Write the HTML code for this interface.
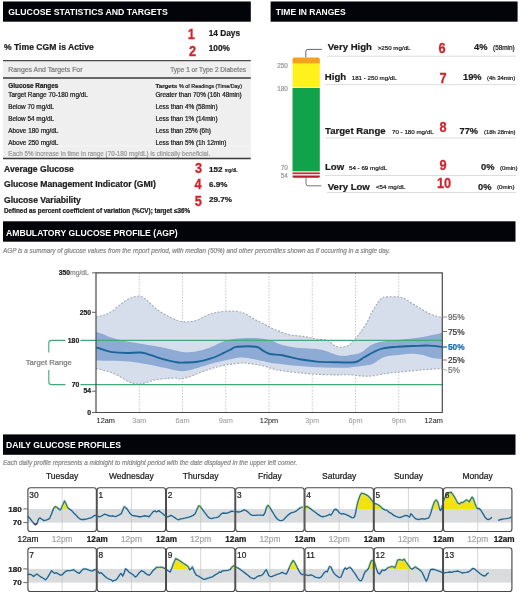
<!DOCTYPE html>
<html><head><meta charset="utf-8"><style>
html,body{margin:0;padding:0;background:#fff;}
body{width:520px;height:593px;overflow:hidden;}
svg{display:block;font-family:"Liberation Sans", Arial, sans-serif;}
</style></head><body>
<svg width="520" height="593" viewBox="0 0 520 593">
<rect width="520" height="593" fill="#fff"/>
<rect x="3" y="1.5" width="247.8" height="20.2" fill="#030409"/>
<text x="8.2" y="15" font-size="8.72" font-weight="bold" fill="#ffffff">GLUCOSE STATISTICS AND TARGETS</text>
<text transform="translate(187.8,38.6) scale(0.84,1)" font-size="15.2" font-weight="bold" fill="#d2232a" stroke="#d2232a" stroke-width="0.3">1</text>
<text x="208.7" y="36.1" font-size="8.3" font-weight="bold" fill="#1c1c1c" stroke="#1c1c1c" stroke-width="0.22">14 Days</text>
<text x="4" y="50.4" font-size="8.6" font-weight="bold" fill="#1c1c1c" stroke="#1c1c1c" stroke-width="0.22">% Time CGM is Active</text>
<text transform="translate(188.9,56.3) scale(0.84,1)" font-size="15.2" font-weight="bold" fill="#d2232a" stroke="#d2232a" stroke-width="0.3">2</text>
<text x="208.7" y="50.5" font-size="8.3" font-weight="bold" fill="#1c1c1c" stroke="#1c1c1c" stroke-width="0.22">100%</text>
<rect x="3" y="61" width="247.8" height="97" fill="#efefef"/>
<line x1="3" y1="60.6" x2="250.8" y2="60.6" stroke="#4a4a4a" stroke-width="1.2"/>
<text x="8.3" y="72.4" font-size="6.9" fill="#7e7e7e" stroke="#7e7e7e" stroke-width="0.22">Ranges And Targets For</text>
<text x="246" y="72.4" font-size="6.5" text-anchor="end" fill="#7e7e7e" stroke="#7e7e7e" stroke-width="0.22">Type 1 or Type 2 Diabetes</text>
<line x1="3" y1="78" x2="250.8" y2="78" stroke="#3a3a3a" stroke-width="1.5"/>
<line x1="3" y1="146" x2="250.8" y2="146" stroke="#f7f7f7" stroke-width="0.8"/>
<text x="8.3" y="87.8" font-size="6.4" font-weight="bold" fill="#1c1c1c" stroke="#1c1c1c" stroke-width="0.22">Glucose Ranges</text>
<text x="155.4" y="87.8" font-size="6.2" font-weight="bold" fill="#1c1c1c" stroke="#1c1c1c" stroke-width="0.2">Targets <tspan font-size="5.4" font-weight="normal">% of Readings (Time/Day)</tspan></text>
<text x="8.3" y="96.8" font-size="6.4" fill="#1c1c1c" stroke="#1c1c1c" stroke-width="0.22">Target Range 70-180 mg/dL</text>
<text x="155.4" y="96.8" font-size="6.4" fill="#1c1c1c" stroke="#1c1c1c" stroke-width="0.22">Greater than 70% (16h 48min)</text>
<text x="8.3" y="108.8" font-size="6.4" fill="#1c1c1c" stroke="#1c1c1c" stroke-width="0.22">Below 70 mg/dL</text>
<text x="155.4" y="108.8" font-size="6.4" fill="#1c1c1c" stroke="#1c1c1c" stroke-width="0.22">Less than 4% (58min)</text>
<text x="8.3" y="120.8" font-size="6.4" fill="#1c1c1c" stroke="#1c1c1c" stroke-width="0.22">Below 54 mg/dL</text>
<text x="155.4" y="120.8" font-size="6.4" fill="#1c1c1c" stroke="#1c1c1c" stroke-width="0.22">Less than 1% (14min)</text>
<text x="8.3" y="132.8" font-size="6.4" fill="#1c1c1c" stroke="#1c1c1c" stroke-width="0.22">Above 180 mg/dL</text>
<text x="155.4" y="132.8" font-size="6.4" fill="#1c1c1c" stroke="#1c1c1c" stroke-width="0.22">Less than 25% (6h)</text>
<text x="8.3" y="144.8" font-size="6.4" fill="#1c1c1c" stroke="#1c1c1c" stroke-width="0.22">Above 250 mg/dL</text>
<text x="155.4" y="144.8" font-size="6.4" fill="#1c1c1c" stroke="#1c1c1c" stroke-width="0.22">Less than 5% (1h 12min)</text>
<text x="8.3" y="156" font-size="6.3" fill="#9a9a9a" stroke="#9a9a9a" stroke-width="0.22">Each 5% increase in time in range (70-180 mg/dL) is clinically beneficial.</text>
<line x1="3" y1="158.6" x2="250.8" y2="158.6" stroke="#3a3a3a" stroke-width="1.5"/>
<text x="4" y="172" font-size="8.6" font-weight="bold" fill="#1c1c1c" stroke="#1c1c1c" stroke-width="0.22">Average Glucose</text>
<text transform="translate(195.0,172.5) scale(0.84,1)" font-size="15.2" font-weight="bold" fill="#d2232a" stroke="#d2232a" stroke-width="0.3">3</text>
<text x="209" y="171.8" font-size="8.1" font-weight="bold" fill="#1c1c1c" stroke="#1c1c1c" stroke-width="0.22">152 <tspan font-size="4.6" font-weight="normal">mg/dL</tspan></text>
<text x="4" y="187" font-size="8.6" font-weight="bold" fill="#1c1c1c" stroke="#1c1c1c" stroke-width="0.22">Glucose Management Indicator (GMI)</text>
<text transform="translate(194.6,189) scale(0.84,1)" font-size="15.2" font-weight="bold" fill="#d2232a" stroke="#d2232a" stroke-width="0.3">4</text>
<text x="209" y="186.8" font-size="8.1" font-weight="bold" fill="#1c1c1c" stroke="#1c1c1c" stroke-width="0.22">6.9%</text>
<text x="4" y="202.5" font-size="8.6" font-weight="bold" fill="#1c1c1c" stroke="#1c1c1c" stroke-width="0.22">Glucose Variability</text>
<text transform="translate(194.8,206) scale(0.84,1)" font-size="15.2" font-weight="bold" fill="#d2232a" stroke="#d2232a" stroke-width="0.3">5</text>
<text x="209" y="202" font-size="8.1" font-weight="bold" fill="#1c1c1c" stroke="#1c1c1c" stroke-width="0.22">29.7%</text>
<text x="4" y="212.5" font-size="6.35" font-weight="bold" fill="#1c1c1c" stroke="#1c1c1c" stroke-width="0.22">Defined as percent coefficient of variation (%CV); target ≤36%</text>
<rect x="270.6" y="1.5" width="247" height="20.2" fill="#030409"/>
<text x="275.8" y="15" font-size="8.5" font-weight="bold" fill="#ffffff">TIME IN RANGES</text>
<path d="M292.5,59.3 Q292.5,57.4 294.4,57.4 H317.9 Q319.8,57.4 319.8,59.3 V63.7 H292.5 Z" fill="#f5a11e"/>
<rect x="292.5" y="63.6" width="27.3" height="23.3" fill="#fff11c"/>
<rect x="292.5" y="87.9" width="27.3" height="83.4" fill="#12a24c"/>
<rect x="292.5" y="172.4" width="27.3" height="1.8" fill="#d42a35"/>
<path d="M292.5,175.5 H319.8 V176.2 Q319.8,177.8 318.2,177.8 H294.1 Q292.5,177.8 292.5,176.2 Z" fill="#b81d2e"/>
<text x="287.9" y="68.1" font-size="6.4" text-anchor="end" fill="#9a9a9a" stroke="#9a9a9a" stroke-width="0.22">250</text>
<text x="287.9" y="90.8" font-size="6.4" text-anchor="end" fill="#9a9a9a" stroke="#9a9a9a" stroke-width="0.22">180</text>
<text x="287.9" y="170.3" font-size="6.4" text-anchor="end" fill="#9a9a9a" stroke="#9a9a9a" stroke-width="0.22">70</text>
<text x="287.9" y="177.9" font-size="6.4" text-anchor="end" fill="#9a9a9a" stroke="#9a9a9a" stroke-width="0.22">54</text>
<path d="M305.8,57.4 V51.5 Q305.8,49.4 307.9,49.4 H322" fill="none" stroke="#555" stroke-width="0.9"/>
<path d="M306,177.8 V183.7 Q306,185.8 308.1,185.8 H321.3" fill="none" stroke="#666" stroke-width="0.9"/>
<line x1="327" y1="56.2" x2="516" y2="56.2" stroke="#d4d4d4" stroke-width="0.8"/>
<line x1="325" y1="84.6" x2="516" y2="84.6" stroke="#d4d4d4" stroke-width="0.8"/>
<line x1="325" y1="138" x2="516" y2="138" stroke="#d4d4d4" stroke-width="0.8"/>
<line x1="325" y1="175.5" x2="516" y2="175.5" stroke="#d4d4d4" stroke-width="0.8"/>
<line x1="327" y1="192.5" x2="516" y2="192.5" stroke="#d4d4d4" stroke-width="0.8"/>
<text x="327.7" y="50.4" font-size="9.6" font-weight="bold" fill="#1c1c1c" stroke="#1c1c1c" stroke-width="0.22">Very High</text>
<text x="377.7" y="50.2" font-size="6.2" fill="#1c1c1c" stroke="#1c1c1c" stroke-width="0.22">&gt;250 mg/dL</text>
<text transform="translate(438.6,52.5) scale(0.84,1)" font-size="15.2" font-weight="bold" fill="#d2232a" stroke="#d2232a" stroke-width="0.3">6</text>
<text x="474" y="50.2" font-size="9.3" font-weight="bold" fill="#1c1c1c" stroke="#1c1c1c" stroke-width="0.22">4%</text>
<text x="493" y="50.2" font-size="6.4" fill="#1c1c1c" stroke="#1c1c1c" stroke-width="0.22">(58min)</text>
<text x="324.8" y="80.2" font-size="9.6" font-weight="bold" fill="#1c1c1c" stroke="#1c1c1c" stroke-width="0.22">High</text>
<text x="351.7" y="80" font-size="6.2" fill="#1c1c1c" stroke="#1c1c1c" stroke-width="0.22">181 - 250 mg/dL</text>
<text transform="translate(439.6,82.5) scale(0.84,1)" font-size="15.2" font-weight="bold" fill="#d2232a" stroke="#d2232a" stroke-width="0.3">7</text>
<text x="463" y="80" font-size="9.3" font-weight="bold" fill="#1c1c1c" stroke="#1c1c1c" stroke-width="0.22">19%</text>
<text x="487" y="80" font-size="5.9" fill="#1c1c1c" stroke="#1c1c1c" stroke-width="0.22">(4h 34min)</text>
<text x="325" y="134.3" font-size="9.6" font-weight="bold" fill="#1c1c1c" stroke="#1c1c1c" stroke-width="0.22">Target Range</text>
<text x="392" y="134" font-size="6.2" fill="#1c1c1c" stroke="#1c1c1c" stroke-width="0.22">70 - 180 mg/dL</text>
<text transform="translate(439.6,132) scale(0.84,1)" font-size="15.2" font-weight="bold" fill="#d2232a" stroke="#d2232a" stroke-width="0.3">8</text>
<text x="459.5" y="134.3" font-size="9.3" font-weight="bold" fill="#1c1c1c" stroke="#1c1c1c" stroke-width="0.22">77%</text>
<text x="484" y="134" font-size="5.9" fill="#1c1c1c" stroke="#1c1c1c" stroke-width="0.22">(18h 28min)</text>
<text x="325" y="170.2" font-size="9.6" font-weight="bold" fill="#1c1c1c" stroke="#1c1c1c" stroke-width="0.22">Low</text>
<text x="349" y="170" font-size="6.2" fill="#1c1c1c" stroke="#1c1c1c" stroke-width="0.22">54 - 69 mg/dL</text>
<text transform="translate(439.6,170) scale(0.84,1)" font-size="15.2" font-weight="bold" fill="#d2232a" stroke="#d2232a" stroke-width="0.3">9</text>
<text x="481" y="170.4" font-size="9.3" font-weight="bold" fill="#1c1c1c" stroke="#1c1c1c" stroke-width="0.22">0%</text>
<text x="500" y="170.2" font-size="6.2" fill="#1c1c1c" stroke="#1c1c1c" stroke-width="0.22">(0min)</text>
<text x="327.7" y="189.5" font-size="9.6" font-weight="bold" fill="#1c1c1c" stroke="#1c1c1c" stroke-width="0.22">Very Low</text>
<text x="376" y="189.3" font-size="6.2" fill="#1c1c1c" stroke="#1c1c1c" stroke-width="0.22">&lt;54 mg/dL</text>
<text transform="translate(437.0,187.5) scale(0.84,1)" font-size="15.2" font-weight="bold" fill="#d2232a" stroke="#d2232a" stroke-width="0.3">10</text>
<text x="478" y="189.5" font-size="9.3" font-weight="bold" fill="#1c1c1c" stroke="#1c1c1c" stroke-width="0.22">0%</text>
<text x="497" y="189.3" font-size="6.2" fill="#1c1c1c" stroke="#1c1c1c" stroke-width="0.22">(0min)</text>
<rect x="3" y="221.3" width="512.5" height="20.4" fill="#030409"/>
<text x="6" y="236.2" font-size="8.65" font-weight="bold" fill="#ffffff">AMBULATORY GLUCOSE PROFILE (AGP)</text>
<text x="3" y="252.5" font-size="6.34" font-style="italic" fill="#8a8a8a" stroke="#8a8a8a" stroke-width="0.22">AGP is a summary of glucose values from the report period, with median (50%) and other percentiles shown as if occurring in a single day.</text>
<line x1="139.25" y1="273" x2="139.25" y2="412" stroke="#b0b0b0" stroke-width="0.7" stroke-dasharray="1.5,1.5"/>
<line x1="182.5" y1="273" x2="182.5" y2="412" stroke="#b0b0b0" stroke-width="0.7" stroke-dasharray="1.5,1.5"/>
<line x1="225.75" y1="273" x2="225.75" y2="412" stroke="#b0b0b0" stroke-width="0.7" stroke-dasharray="1.5,1.5"/>
<line x1="269.0" y1="273" x2="269.0" y2="412" stroke="#b0b0b0" stroke-width="0.7" stroke-dasharray="1.5,1.5"/>
<line x1="312.25" y1="273" x2="312.25" y2="412" stroke="#b0b0b0" stroke-width="0.7" stroke-dasharray="1.5,1.5"/>
<line x1="355.5" y1="273" x2="355.5" y2="412" stroke="#b0b0b0" stroke-width="0.7" stroke-dasharray="1.5,1.5"/>
<line x1="398.75" y1="273" x2="398.75" y2="412" stroke="#b0b0b0" stroke-width="0.7" stroke-dasharray="1.5,1.5"/>
<path d="M96.00,316.80 C97.28,316.55 100.98,316.27 103.70,315.30 C106.42,314.33 109.42,312.88 112.30,311.00 C115.18,309.12 118.12,306.08 121.00,304.00 C123.88,301.92 126.58,299.80 129.60,298.50 C132.62,297.20 136.22,295.92 139.10,296.20 C141.98,296.48 144.15,298.17 146.90,300.20 C149.65,302.23 152.72,306.10 155.60,308.40 C158.48,310.70 161.32,312.28 164.20,314.00 C167.08,315.72 170.30,317.48 172.90,318.70 C175.50,319.92 177.17,320.78 179.80,321.30 C182.43,321.82 185.78,322.00 188.70,321.80 C191.62,321.60 194.42,321.10 197.30,320.10 C200.18,319.10 203.12,317.02 206.00,315.80 C208.88,314.58 211.43,313.53 214.60,312.80 C217.77,312.07 221.25,311.63 225.00,311.40 C228.75,311.17 233.65,310.97 237.10,311.40 C240.55,311.83 242.82,312.70 245.70,314.00 C248.58,315.30 251.52,317.62 254.40,319.20 C257.28,320.78 260.08,322.00 263.00,323.50 C265.92,325.00 268.68,326.70 271.90,328.20 C275.12,329.70 279.12,331.35 282.30,332.50 C285.48,333.65 288.12,334.52 291.00,335.10 C293.88,335.68 296.72,335.63 299.60,336.00 C302.48,336.37 305.42,336.78 308.30,337.30 C311.18,337.82 313.73,338.60 316.90,339.10 C320.07,339.60 324.42,339.23 327.30,340.30 C330.18,341.37 332.18,344.35 334.20,345.50 C336.22,346.65 337.67,347.00 339.40,347.20 C341.13,347.40 342.87,347.13 344.60,346.70 C346.33,346.27 347.98,345.97 349.80,344.60 C351.62,343.23 353.63,340.67 355.50,338.50 C357.37,336.33 359.18,334.12 361.00,331.60 C362.82,329.08 364.58,326.60 366.40,323.40 C368.22,320.20 370.07,315.75 371.90,312.40 C373.73,309.05 375.72,305.73 377.40,303.30 C379.08,300.87 380.48,298.87 382.00,297.80 C383.52,296.73 383.77,297.05 386.50,296.90 C389.23,296.75 395.35,296.60 398.40,296.90 C401.45,297.20 402.52,297.63 404.80,298.70 C407.08,299.77 409.67,301.78 412.10,303.30 C414.53,304.82 416.65,306.13 419.40,307.80 C422.15,309.47 425.85,311.92 428.60,313.30 C431.35,314.68 433.67,315.40 435.90,316.10 C438.13,316.80 440.98,317.27 442.00,317.50 L442.00,368.50 C438.83,368.72 429.20,369.28 423.00,369.80 C416.80,370.32 410.88,371.00 404.80,371.60 C398.72,372.20 392.58,372.63 386.50,373.40 C380.42,374.17 374.38,375.97 368.30,376.20 C362.22,376.43 355.68,375.02 350.00,374.80 C344.32,374.58 339.72,374.98 334.20,374.90 C328.68,374.82 322.67,374.63 316.90,374.30 C311.13,373.97 305.37,373.48 299.60,372.90 C293.83,372.32 286.62,371.43 282.30,370.80 C277.98,370.17 276.92,369.93 273.70,369.10 C270.48,368.27 266.50,366.63 263.00,365.80 C259.50,364.97 256.15,364.57 252.70,364.10 C249.25,363.63 245.77,363.00 242.30,363.00 C238.83,363.00 235.37,363.63 231.90,364.10 C228.43,364.57 224.97,365.03 221.50,365.80 C218.03,366.57 214.55,367.63 211.10,368.70 C207.65,369.77 204.25,370.90 200.80,372.20 C197.35,373.50 193.87,375.37 190.40,376.50 C186.93,377.63 182.35,378.73 180.00,379.00 C177.65,379.27 178.35,378.20 176.30,378.10 C174.25,378.00 171.15,378.12 167.70,378.40 C164.25,378.68 159.07,379.13 155.60,379.80 C152.13,380.47 149.50,381.68 146.90,382.40 C144.30,383.12 142.02,383.90 140.00,384.10 C137.98,384.30 136.82,384.03 134.80,383.60 C132.78,383.17 130.20,382.57 127.90,381.50 C125.60,380.43 123.60,378.63 121.00,377.20 C118.40,375.77 114.90,373.97 112.30,372.90 C109.70,371.83 108.12,371.53 105.40,370.80 C102.68,370.07 97.57,368.88 96.00,368.50 Z" fill="#d6deec"/>
<path d="M96.00,331.70 C97.33,332.17 101.33,333.48 104.00,334.50 C106.67,335.52 108.50,336.72 112.00,337.80 C115.50,338.88 120.50,340.07 125.00,341.00 C129.50,341.93 133.17,342.40 139.00,343.40 C144.83,344.40 153.17,345.67 160.00,347.00 C166.83,348.33 175.22,350.52 180.00,351.40 C184.78,352.28 185.23,352.43 188.70,352.30 C192.17,352.17 197.07,351.47 200.80,350.60 C204.53,349.73 208.22,348.25 211.10,347.10 C213.98,345.95 215.78,344.70 218.10,343.70 C220.42,342.70 222.70,341.83 225.00,341.10 C227.30,340.37 228.45,339.80 231.90,339.30 C235.35,338.80 241.67,338.30 245.70,338.10 C249.73,337.90 252.05,337.75 256.10,338.10 C260.15,338.45 265.63,339.05 270.00,340.20 C274.37,341.35 277.37,343.70 282.30,345.00 C287.23,346.30 293.83,347.33 299.60,348.00 C305.37,348.67 312.28,348.42 316.90,349.00 C321.52,349.58 323.83,350.45 327.30,351.50 C330.77,352.55 334.58,354.58 337.70,355.30 C340.82,356.02 343.95,355.83 346.00,355.80 C348.05,355.77 347.50,355.67 350.00,355.10 C352.50,354.53 357.95,353.77 361.00,352.40 C364.05,351.03 365.87,348.42 368.30,346.90 C370.73,345.38 372.57,344.27 375.60,343.30 C378.63,342.33 381.63,341.77 386.50,341.10 C391.37,340.43 398.72,340.00 404.80,339.30 C410.88,338.60 416.80,337.95 423.00,336.90 C429.20,335.85 438.83,333.65 442.00,333.00 L442.00,358.80 C440.37,358.65 435.37,358.52 432.20,357.90 C429.03,357.28 425.73,355.77 423.00,355.10 C420.27,354.43 418.83,354.05 415.80,353.90 C412.77,353.75 409.68,353.78 404.80,354.20 C399.92,354.62 390.77,355.48 386.50,356.40 C382.23,357.32 381.63,358.38 379.20,359.70 C376.77,361.02 374.93,363.23 371.90,364.30 C368.87,365.37 364.65,365.58 361.00,366.10 C357.35,366.62 354.47,367.13 350.00,367.40 C345.53,367.67 339.72,367.72 334.20,367.70 C328.68,367.68 322.67,367.58 316.90,367.30 C311.13,367.02 305.37,366.52 299.60,366.00 C293.83,365.48 287.23,364.75 282.30,364.20 C277.37,363.65 273.22,363.23 270.00,362.70 C266.78,362.17 265.88,361.63 263.00,361.00 C260.12,360.37 256.15,359.48 252.70,358.90 C249.25,358.32 245.77,357.50 242.30,357.50 C238.83,357.50 236.52,358.03 231.90,358.90 C227.28,359.77 220.37,361.20 214.60,362.70 C208.83,364.20 202.23,366.52 197.30,367.90 C192.37,369.28 188.22,370.52 185.00,371.00 C181.78,371.48 181.47,371.35 178.00,370.80 C174.53,370.25 169.38,368.80 164.20,367.70 C159.02,366.60 152.67,365.22 146.90,364.20 C141.13,363.18 135.37,362.17 129.60,361.60 C123.83,361.03 117.90,361.00 112.30,360.80 C106.70,360.60 98.72,360.47 96.00,360.40 Z" fill="#8eabd5"/>
<path d="M96.00,316.80 C97.28,316.55 100.98,316.27 103.70,315.30 C106.42,314.33 109.42,312.88 112.30,311.00 C115.18,309.12 118.12,306.08 121.00,304.00 C123.88,301.92 126.58,299.80 129.60,298.50 C132.62,297.20 136.22,295.92 139.10,296.20 C141.98,296.48 144.15,298.17 146.90,300.20 C149.65,302.23 152.72,306.10 155.60,308.40 C158.48,310.70 161.32,312.28 164.20,314.00 C167.08,315.72 170.30,317.48 172.90,318.70 C175.50,319.92 177.17,320.78 179.80,321.30 C182.43,321.82 185.78,322.00 188.70,321.80 C191.62,321.60 194.42,321.10 197.30,320.10 C200.18,319.10 203.12,317.02 206.00,315.80 C208.88,314.58 211.43,313.53 214.60,312.80 C217.77,312.07 221.25,311.63 225.00,311.40 C228.75,311.17 233.65,310.97 237.10,311.40 C240.55,311.83 242.82,312.70 245.70,314.00 C248.58,315.30 251.52,317.62 254.40,319.20 C257.28,320.78 260.08,322.00 263.00,323.50 C265.92,325.00 268.68,326.70 271.90,328.20 C275.12,329.70 279.12,331.35 282.30,332.50 C285.48,333.65 288.12,334.52 291.00,335.10 C293.88,335.68 296.72,335.63 299.60,336.00 C302.48,336.37 305.42,336.78 308.30,337.30 C311.18,337.82 313.73,338.60 316.90,339.10 C320.07,339.60 324.42,339.23 327.30,340.30 C330.18,341.37 332.18,344.35 334.20,345.50 C336.22,346.65 337.67,347.00 339.40,347.20 C341.13,347.40 342.87,347.13 344.60,346.70 C346.33,346.27 347.98,345.97 349.80,344.60 C351.62,343.23 353.63,340.67 355.50,338.50 C357.37,336.33 359.18,334.12 361.00,331.60 C362.82,329.08 364.58,326.60 366.40,323.40 C368.22,320.20 370.07,315.75 371.90,312.40 C373.73,309.05 375.72,305.73 377.40,303.30 C379.08,300.87 380.48,298.87 382.00,297.80 C383.52,296.73 383.77,297.05 386.50,296.90 C389.23,296.75 395.35,296.60 398.40,296.90 C401.45,297.20 402.52,297.63 404.80,298.70 C407.08,299.77 409.67,301.78 412.10,303.30 C414.53,304.82 416.65,306.13 419.40,307.80 C422.15,309.47 425.85,311.92 428.60,313.30 C431.35,314.68 433.67,315.40 435.90,316.10 C438.13,316.80 440.98,317.27 442.00,317.50" fill="none" stroke="#a3a9b3" stroke-width="1.1" stroke-dasharray="2,1.6"/>
<path d="M96.00,368.50 C97.57,368.88 102.68,370.07 105.40,370.80 C108.12,371.53 109.70,371.83 112.30,372.90 C114.90,373.97 118.40,375.77 121.00,377.20 C123.60,378.63 125.60,380.43 127.90,381.50 C130.20,382.57 132.78,383.17 134.80,383.60 C136.82,384.03 137.98,384.30 140.00,384.10 C142.02,383.90 144.30,383.12 146.90,382.40 C149.50,381.68 152.13,380.47 155.60,379.80 C159.07,379.13 164.25,378.68 167.70,378.40 C171.15,378.12 174.25,378.00 176.30,378.10 C178.35,378.20 177.65,379.27 180.00,379.00 C182.35,378.73 186.93,377.63 190.40,376.50 C193.87,375.37 197.35,373.50 200.80,372.20 C204.25,370.90 207.65,369.77 211.10,368.70 C214.55,367.63 218.03,366.57 221.50,365.80 C224.97,365.03 228.43,364.57 231.90,364.10 C235.37,363.63 238.83,363.00 242.30,363.00 C245.77,363.00 249.25,363.63 252.70,364.10 C256.15,364.57 259.50,364.97 263.00,365.80 C266.50,366.63 270.48,368.27 273.70,369.10 C276.92,369.93 277.98,370.17 282.30,370.80 C286.62,371.43 293.83,372.32 299.60,372.90 C305.37,373.48 311.13,373.97 316.90,374.30 C322.67,374.63 328.68,374.82 334.20,374.90 C339.72,374.98 344.32,374.58 350.00,374.80 C355.68,375.02 362.22,376.43 368.30,376.20 C374.38,375.97 380.42,374.17 386.50,373.40 C392.58,372.63 398.72,372.20 404.80,371.60 C410.88,371.00 416.80,370.32 423.00,369.80 C429.20,369.28 438.83,368.72 442.00,368.50" fill="none" stroke="#a3a9b3" stroke-width="1.1" stroke-dasharray="2,1.6"/>
<path d="M96.00,347.30 C97.57,347.82 102.68,349.60 105.40,350.40 C108.12,351.20 108.85,351.67 112.30,352.10 C115.75,352.53 121.48,352.93 126.10,353.00 C130.72,353.07 136.53,352.37 140.00,352.50 C143.47,352.63 144.02,353.00 146.90,353.80 C149.78,354.60 153.83,356.20 157.30,357.30 C160.77,358.40 164.25,359.53 167.70,360.40 C171.15,361.27 175.12,362.15 178.00,362.50 C180.88,362.85 181.78,362.62 185.00,362.50 C188.22,362.38 192.95,362.48 197.30,361.80 C201.65,361.12 206.77,359.83 211.10,358.40 C215.43,356.97 219.83,354.80 223.30,353.20 C226.77,351.60 229.60,349.87 231.90,348.80 C234.20,347.73 233.07,347.13 237.10,346.80 C241.13,346.47 251.78,346.17 256.10,346.80 C260.42,347.43 260.68,349.40 263.00,350.60 C265.32,351.80 266.78,353.22 270.00,354.00 C273.22,354.78 277.37,354.42 282.30,355.30 C287.23,356.18 293.83,358.25 299.60,359.30 C305.37,360.35 311.13,361.12 316.90,361.60 C322.67,362.08 328.68,362.05 334.20,362.20 C339.72,362.35 346.15,362.62 350.00,362.50 C353.85,362.38 354.87,362.42 357.30,361.50 C359.73,360.58 361.87,358.58 364.60,357.00 C367.33,355.42 370.65,353.43 373.70,352.00 C376.75,350.57 379.23,349.25 382.90,348.40 C386.57,347.55 390.53,347.30 395.70,346.90 C400.87,346.50 408.42,346.22 413.90,346.00 C419.38,345.78 423.92,345.45 428.60,345.60 C433.28,345.75 439.77,346.68 442.00,346.90" fill="none" stroke="#1b6699" stroke-width="1.9"/>
<line x1="80.4" y1="340.4" x2="442" y2="340.4" stroke="#43a877" stroke-width="1.3"/>
<line x1="80.4" y1="384.6" x2="442" y2="384.6" stroke="#43a877" stroke-width="1.3"/>
<path d="M96,272.8 H442.3 V412.5 H96 Z" fill="none" stroke="#4a4a4a" stroke-width="1.2"/>
<line x1="92" y1="272.8" x2="96" y2="272.8" stroke="#555" stroke-width="0.9"/>
<line x1="92" y1="312.3" x2="96" y2="312.3" stroke="#555" stroke-width="0.9"/>
<line x1="92" y1="391.2" x2="96" y2="391.2" stroke="#555" stroke-width="0.9"/>
<line x1="92" y1="412.5" x2="96" y2="412.5" stroke="#555" stroke-width="0.9"/>
<text x="70" y="275.2" font-size="6.8" font-weight="bold" text-anchor="end" fill="#1c1c1c" stroke="#1c1c1c" stroke-width="0.22">350</text>
<text x="70" y="275.2" font-size="6.8" fill="#8a8a8a" stroke="#8a8a8a" stroke-width="0.22">mg/dL</text>
<text x="91" y="314.8" font-size="6.8" font-weight="bold" text-anchor="end" fill="#1c1c1c" stroke="#1c1c1c" stroke-width="0.22">250</text>
<text x="91" y="393.2" font-size="6.8" font-weight="bold" text-anchor="end" fill="#1c1c1c" stroke="#1c1c1c" stroke-width="0.22">54</text>
<text x="91" y="414.6" font-size="6.8" font-weight="bold" text-anchor="end" fill="#1c1c1c" stroke="#1c1c1c" stroke-width="0.22">0</text>
<text x="79.2" y="342.6" font-size="6.8" font-weight="bold" text-anchor="end" fill="#1c1c1c" stroke="#1c1c1c" stroke-width="0.22">180</text>
<text x="79.2" y="386.6" font-size="6.8" font-weight="bold" text-anchor="end" fill="#1c1c1c" stroke="#1c1c1c" stroke-width="0.22">70</text>
<path d="M65.4,340.4 H51.5 Q48.8,340.4 48.8,343.1 V352.5 M48.8,370 V381.9 Q48.8,384.6 51.5,384.6 H65.4" fill="none" stroke="#43a877" stroke-width="1.1"/>
<text x="48.8" y="364.9" font-size="7.7" text-anchor="middle" fill="#7a7a7a" stroke="#7a7a7a" stroke-width="0.22">Target Range</text>
<text x="448" y="319.8" font-size="8.3" fill="#666" stroke="#666" stroke-width="0.22">95%</text>
<text x="448" y="335" font-size="8.3" fill="#333" stroke="#333" stroke-width="0.22">75%</text>
<text x="448" y="349.8" font-size="8.3" font-weight="bold" fill="#1a6aa5" stroke="#1a6aa5" stroke-width="0.22">50%</text>
<text x="448" y="362.7" font-size="8.3" fill="#333" stroke="#333" stroke-width="0.22">25%</text>
<text x="448" y="373" font-size="8.3" fill="#777" stroke="#777" stroke-width="0.22">5%</text>
<line x1="442" y1="317" x2="447" y2="317" stroke="#777" stroke-width="0.8"/>
<line x1="442" y1="331.5" x2="447" y2="331.5" stroke="#555" stroke-width="0.8"/>
<line x1="442" y1="347" x2="447" y2="347" stroke="#1a6aa5" stroke-width="1.3"/>
<line x1="442" y1="360" x2="447" y2="360" stroke="#555" stroke-width="0.8"/>
<line x1="442" y1="368.5" x2="447" y2="370.5" stroke="#999" stroke-width="0.8"/>
<text x="96.6" y="422.5" font-size="7.3" fill="#2a2a2a" stroke="#2a2a2a" stroke-width="0.08">12am</text>
<text x="139.25" y="422.5" font-size="7.3" text-anchor="middle" fill="#a0a0a0" stroke="#a0a0a0" stroke-width="0.08">3am</text>
<text x="182.5" y="422.5" font-size="7.3" text-anchor="middle" fill="#a0a0a0" stroke="#a0a0a0" stroke-width="0.08">6am</text>
<text x="225.75" y="422.5" font-size="7.3" text-anchor="middle" fill="#a0a0a0" stroke="#a0a0a0" stroke-width="0.08">9am</text>
<text x="269.0" y="422.5" font-size="7.3" text-anchor="middle" fill="#2a2a2a" stroke="#2a2a2a" stroke-width="0.08">12pm</text>
<text x="312.25" y="422.5" font-size="7.3" text-anchor="middle" fill="#a0a0a0" stroke="#a0a0a0" stroke-width="0.08">3pm</text>
<text x="355.5" y="422.5" font-size="7.3" text-anchor="middle" fill="#a0a0a0" stroke="#a0a0a0" stroke-width="0.08">6pm</text>
<text x="398.75" y="422.5" font-size="7.3" text-anchor="middle" fill="#a0a0a0" stroke="#a0a0a0" stroke-width="0.08">9pm</text>
<text x="442.8" y="422.5" font-size="7.3" text-anchor="end" fill="#2a2a2a" stroke="#2a2a2a" stroke-width="0.08">12am</text>
<rect x="3" y="434.4" width="512.5" height="20.4" fill="#030409"/>
<text x="6" y="448.2" font-size="8.6" font-weight="bold" fill="#ffffff">DAILY GLUCOSE PROFILES</text>
<text x="3" y="465" font-size="6.3" font-style="italic" fill="#8a8a8a" stroke="#8a8a8a" stroke-width="0.22">Each daily profile represents a midnight to midnight period with the date displayed in the upper left corner.</text>
<text x="62.13" y="479" font-size="8.55" text-anchor="middle" fill="#1c1c1c" stroke="#1c1c1c" stroke-width="0.22">Tuesday</text>
<text x="131.39" y="479" font-size="8.55" text-anchor="middle" fill="#1c1c1c" stroke="#1c1c1c" stroke-width="0.22">Wednesday</text>
<text x="200.65" y="479" font-size="8.55" text-anchor="middle" fill="#1c1c1c" stroke="#1c1c1c" stroke-width="0.22">Thursday</text>
<text x="269.91" y="479" font-size="8.55" text-anchor="middle" fill="#1c1c1c" stroke="#1c1c1c" stroke-width="0.22">Friday</text>
<text x="339.17" y="479" font-size="8.55" text-anchor="middle" fill="#1c1c1c" stroke="#1c1c1c" stroke-width="0.22">Saturday</text>
<text x="408.43" y="479" font-size="8.55" text-anchor="middle" fill="#1c1c1c" stroke="#1c1c1c" stroke-width="0.22">Sunday</text>
<text x="477.69" y="479" font-size="8.55" text-anchor="middle" fill="#1c1c1c" stroke="#1c1c1c" stroke-width="0.22">Monday</text>
<defs>
<clipPath id="hi0"><rect x="0" y="487.7" width="520" height="21.20"/></clipPath>
<clipPath id="hig0"><rect x="0" y="487.7" width="520" height="19.60"/></clipPath>
<clipPath id="mid0"><rect x="0" y="507.30" width="520" height="15.30"/></clipPath>
<clipPath id="lo0"><rect x="0" y="522.60" width="520" height="9.10"/></clipPath>
<clipPath id="hi1"><rect x="0" y="547.7" width="520" height="21.20"/></clipPath>
<clipPath id="hig1"><rect x="0" y="547.7" width="520" height="19.60"/></clipPath>
<clipPath id="mid1"><rect x="0" y="567.30" width="520" height="15.30"/></clipPath>
<clipPath id="lo1"><rect x="0" y="582.60" width="520" height="9.10"/></clipPath>
</defs>
<rect x="27.9" y="508.9" width="68.46" height="13.7" fill="#dadbdc"/>
<line x1="62.13" y1="487.7" x2="62.13" y2="531.5" stroke="#c4c4c4" stroke-width="0.7"/>
<rect x="97.16" y="508.9" width="68.46" height="13.7" fill="#dadbdc"/>
<line x1="131.39" y1="487.7" x2="131.39" y2="531.5" stroke="#c4c4c4" stroke-width="0.7"/>
<rect x="166.42" y="508.9" width="68.46" height="13.7" fill="#dadbdc"/>
<line x1="200.65" y1="487.7" x2="200.65" y2="531.5" stroke="#c4c4c4" stroke-width="0.7"/>
<rect x="235.68" y="508.9" width="68.46" height="13.7" fill="#dadbdc"/>
<line x1="269.91" y1="487.7" x2="269.91" y2="531.5" stroke="#c4c4c4" stroke-width="0.7"/>
<rect x="304.94" y="508.9" width="68.46" height="13.7" fill="#dadbdc"/>
<line x1="339.17" y1="487.7" x2="339.17" y2="531.5" stroke="#c4c4c4" stroke-width="0.7"/>
<rect x="374.2" y="508.9" width="68.46" height="13.7" fill="#dadbdc"/>
<line x1="408.43" y1="487.7" x2="408.43" y2="531.5" stroke="#c4c4c4" stroke-width="0.7"/>
<rect x="443.46" y="508.9" width="68.46" height="13.7" fill="#dadbdc"/>
<line x1="477.69" y1="487.7" x2="477.69" y2="531.5" stroke="#c4c4c4" stroke-width="0.7"/>
<text x="21.8" y="511.7" font-size="8.1" font-weight="bold" text-anchor="end" fill="#1c1c1c" stroke="#1c1c1c" stroke-width="0.22">180</text>
<text x="21.8" y="525.4" font-size="8.1" font-weight="bold" text-anchor="end" fill="#1c1c1c" stroke="#1c1c1c" stroke-width="0.22">70</text>
<line x1="23.3" y1="508.9" x2="27.5" y2="508.9" stroke="#555" stroke-width="0.9"/>
<line x1="23.3" y1="522.6" x2="27.5" y2="522.6" stroke="#555" stroke-width="0.9"/>
<path d="M27.66,516.18 L30.15,518.54 L32.92,522.28 L35.42,524.77 L37.08,523.38 L38.46,519.23 L39.85,517.85 L41.92,519.23 L44.00,520.62 L46.77,519.92 L49.54,518.54 L51.62,513.69 L53.69,508.15 L55.35,506.49 L57.15,507.46 L59.23,509.54 L60.62,509.82 L62.28,506.08 L64.49,500.95 L66.15,504.00 L67.54,507.46 L69.62,509.26 L71.69,510.65 L73.77,513.00 L75.85,515.08 L77.92,517.15 L80.00,518.95 L81.38,519.51 L84.15,519.51 L86.92,518.95 L89.69,518.12 L91.77,517.57 L93.85,515.77 L95.92,515.08 L95.92,508.90 L27.66,508.90 Z" fill="#f4e20c" clip-path="url(#hi0)"/>
<path d="M27.66,516.18 L30.15,518.54 L32.92,522.28 L35.42,524.77 L37.08,523.38 L38.46,519.23 L39.85,517.85 L41.92,519.23 L44.00,520.62 L46.77,519.92 L49.54,518.54 L51.62,513.69 L53.69,508.15 L55.35,506.49 L57.15,507.46 L59.23,509.54 L60.62,509.82 L62.28,506.08 L64.49,500.95 L66.15,504.00 L67.54,507.46 L69.62,509.26 L71.69,510.65 L73.77,513.00 L75.85,515.08 L77.92,517.15 L80.00,518.95 L81.38,519.51 L84.15,519.51 L86.92,518.95 L89.69,518.12 L91.77,517.57 L93.85,515.77 L95.92,515.08" fill="none" stroke="#bfe5f4" stroke-width="2.8" stroke-linejoin="round" opacity="0.8"/>
<path d="M27.66,516.18 L30.15,518.54 L32.92,522.28 L35.42,524.77 L37.08,523.38 L38.46,519.23 L39.85,517.85 L41.92,519.23 L44.00,520.62 L46.77,519.92 L49.54,518.54 L51.62,513.69 L53.69,508.15 L55.35,506.49 L57.15,507.46 L59.23,509.54 L60.62,509.82 L62.28,506.08 L64.49,500.95 L66.15,504.00 L67.54,507.46 L69.62,509.26 L71.69,510.65 L73.77,513.00 L75.85,515.08 L77.92,517.15 L80.00,518.95 L81.38,519.51 L84.15,519.51 L86.92,518.95 L89.69,518.12 L91.77,517.57 L93.85,515.77 L95.92,515.08" fill="none" stroke="#4a7d3a" stroke-width="1.35" stroke-linejoin="round" clip-path="url(#hig0)"/>
<path d="M27.66,516.18 L30.15,518.54 L32.92,522.28 L35.42,524.77 L37.08,523.38 L38.46,519.23 L39.85,517.85 L41.92,519.23 L44.00,520.62 L46.77,519.92 L49.54,518.54 L51.62,513.69 L53.69,508.15 L55.35,506.49 L57.15,507.46 L59.23,509.54 L60.62,509.82 L62.28,506.08 L64.49,500.95 L66.15,504.00 L67.54,507.46 L69.62,509.26 L71.69,510.65 L73.77,513.00 L75.85,515.08 L77.92,517.15 L80.00,518.95 L81.38,519.51 L84.15,519.51 L86.92,518.95 L89.69,518.12 L91.77,517.57 L93.85,515.77 L95.92,515.08" fill="none" stroke="#2c5f85" stroke-width="1.35" stroke-linejoin="round" clip-path="url(#mid0)"/>
<path d="M27.66,516.18 L30.15,518.54 L32.92,522.28 L35.42,524.77 L37.08,523.38 L38.46,519.23 L39.85,517.85 L41.92,519.23 L44.00,520.62 L46.77,519.92 L49.54,518.54 L51.62,513.69 L53.69,508.15 L55.35,506.49 L57.15,507.46 L59.23,509.54 L60.62,509.82 L62.28,506.08 L64.49,500.95 L66.15,504.00 L67.54,507.46 L69.62,509.26 L71.69,510.65 L73.77,513.00 L75.85,515.08 L77.92,517.15 L80.00,518.95 L81.38,519.51 L84.15,519.51 L86.92,518.95 L89.69,518.12 L91.77,517.57 L93.85,515.77 L95.92,515.08" fill="none" stroke="#4d2748" stroke-width="1.35" stroke-linejoin="round" clip-path="url(#lo0)"/>
<path d="M97.77,516.46 L99.85,516.74 L101.92,515.77 L104.69,514.11 L106.77,514.80 L108.85,515.77 L110.92,516.18 L113.00,515.77 L115.08,516.74 L117.15,515.77 L119.23,514.80 L121.31,513.69 L122.69,510.23 L124.08,506.77 L125.46,507.46 L127.54,509.54 L129.62,513.00 L131.69,515.08 L133.77,515.77 L136.54,516.18 L139.31,516.74 L142.08,516.46 L144.85,515.77 L146.92,516.05 L149.00,516.74 L151.08,514.38 L153.15,511.62 L154.82,510.92 L156.62,512.03 L158.69,510.65 L160.77,512.31 L162.85,513.69 L164.92,515.77 L164.92,508.90 L97.77,508.90 Z" fill="#f4e20c" clip-path="url(#hi0)"/>
<path d="M97.77,516.46 L99.85,516.74 L101.92,515.77 L104.69,514.11 L106.77,514.80 L108.85,515.77 L110.92,516.18 L113.00,515.77 L115.08,516.74 L117.15,515.77 L119.23,514.80 L121.31,513.69 L122.69,510.23 L124.08,506.77 L125.46,507.46 L127.54,509.54 L129.62,513.00 L131.69,515.08 L133.77,515.77 L136.54,516.18 L139.31,516.74 L142.08,516.46 L144.85,515.77 L146.92,516.05 L149.00,516.74 L151.08,514.38 L153.15,511.62 L154.82,510.92 L156.62,512.03 L158.69,510.65 L160.77,512.31 L162.85,513.69 L164.92,515.77" fill="none" stroke="#bfe5f4" stroke-width="2.8" stroke-linejoin="round" opacity="0.8"/>
<path d="M97.77,516.46 L99.85,516.74 L101.92,515.77 L104.69,514.11 L106.77,514.80 L108.85,515.77 L110.92,516.18 L113.00,515.77 L115.08,516.74 L117.15,515.77 L119.23,514.80 L121.31,513.69 L122.69,510.23 L124.08,506.77 L125.46,507.46 L127.54,509.54 L129.62,513.00 L131.69,515.08 L133.77,515.77 L136.54,516.18 L139.31,516.74 L142.08,516.46 L144.85,515.77 L146.92,516.05 L149.00,516.74 L151.08,514.38 L153.15,511.62 L154.82,510.92 L156.62,512.03 L158.69,510.65 L160.77,512.31 L162.85,513.69 L164.92,515.77" fill="none" stroke="#4a7d3a" stroke-width="1.35" stroke-linejoin="round" clip-path="url(#hig0)"/>
<path d="M97.77,516.46 L99.85,516.74 L101.92,515.77 L104.69,514.11 L106.77,514.80 L108.85,515.77 L110.92,516.18 L113.00,515.77 L115.08,516.74 L117.15,515.77 L119.23,514.80 L121.31,513.69 L122.69,510.23 L124.08,506.77 L125.46,507.46 L127.54,509.54 L129.62,513.00 L131.69,515.08 L133.77,515.77 L136.54,516.18 L139.31,516.74 L142.08,516.46 L144.85,515.77 L146.92,516.05 L149.00,516.74 L151.08,514.38 L153.15,511.62 L154.82,510.92 L156.62,512.03 L158.69,510.65 L160.77,512.31 L162.85,513.69 L164.92,515.77" fill="none" stroke="#2c5f85" stroke-width="1.35" stroke-linejoin="round" clip-path="url(#mid0)"/>
<path d="M97.77,516.46 L99.85,516.74 L101.92,515.77 L104.69,514.11 L106.77,514.80 L108.85,515.77 L110.92,516.18 L113.00,515.77 L115.08,516.74 L117.15,515.77 L119.23,514.80 L121.31,513.69 L122.69,510.23 L124.08,506.77 L125.46,507.46 L127.54,509.54 L129.62,513.00 L131.69,515.08 L133.77,515.77 L136.54,516.18 L139.31,516.74 L142.08,516.46 L144.85,515.77 L146.92,516.05 L149.00,516.74 L151.08,514.38 L153.15,511.62 L154.82,510.92 L156.62,512.03 L158.69,510.65 L160.77,512.31 L162.85,513.69 L164.92,515.77" fill="none" stroke="#4d2748" stroke-width="1.35" stroke-linejoin="round" clip-path="url(#lo0)"/>
<path d="M166.77,517.15 L168.85,516.46 L170.92,515.35 L173.00,516.46 L175.08,517.85 L177.15,519.23 L178.54,519.92 L180.62,518.95 L182.69,518.54 L184.77,518.12 L186.85,517.57 L188.92,517.15 L191.00,516.46 L193.08,515.35 L195.15,513.69 L196.95,509.54 L198.62,505.80 L200.00,506.08 L201.38,508.15 L203.46,510.92 L205.54,513.69 L207.62,516.46 L209.69,518.12 L211.77,518.54 L213.85,517.85 L215.92,517.57 L218.00,517.15 L220.08,515.35 L221.46,513.69 L223.54,513.00 L226.31,513.42 L229.08,512.31 L231.85,511.20 L233.92,511.62 L233.92,508.90 L166.77,508.90 Z" fill="#f4e20c" clip-path="url(#hi0)"/>
<path d="M166.77,517.15 L168.85,516.46 L170.92,515.35 L173.00,516.46 L175.08,517.85 L177.15,519.23 L178.54,519.92 L180.62,518.95 L182.69,518.54 L184.77,518.12 L186.85,517.57 L188.92,517.15 L191.00,516.46 L193.08,515.35 L195.15,513.69 L196.95,509.54 L198.62,505.80 L200.00,506.08 L201.38,508.15 L203.46,510.92 L205.54,513.69 L207.62,516.46 L209.69,518.12 L211.77,518.54 L213.85,517.85 L215.92,517.57 L218.00,517.15 L220.08,515.35 L221.46,513.69 L223.54,513.00 L226.31,513.42 L229.08,512.31 L231.85,511.20 L233.92,511.62" fill="none" stroke="#bfe5f4" stroke-width="2.8" stroke-linejoin="round" opacity="0.8"/>
<path d="M166.77,517.15 L168.85,516.46 L170.92,515.35 L173.00,516.46 L175.08,517.85 L177.15,519.23 L178.54,519.92 L180.62,518.95 L182.69,518.54 L184.77,518.12 L186.85,517.57 L188.92,517.15 L191.00,516.46 L193.08,515.35 L195.15,513.69 L196.95,509.54 L198.62,505.80 L200.00,506.08 L201.38,508.15 L203.46,510.92 L205.54,513.69 L207.62,516.46 L209.69,518.12 L211.77,518.54 L213.85,517.85 L215.92,517.57 L218.00,517.15 L220.08,515.35 L221.46,513.69 L223.54,513.00 L226.31,513.42 L229.08,512.31 L231.85,511.20 L233.92,511.62" fill="none" stroke="#4a7d3a" stroke-width="1.35" stroke-linejoin="round" clip-path="url(#hig0)"/>
<path d="M166.77,517.15 L168.85,516.46 L170.92,515.35 L173.00,516.46 L175.08,517.85 L177.15,519.23 L178.54,519.92 L180.62,518.95 L182.69,518.54 L184.77,518.12 L186.85,517.57 L188.92,517.15 L191.00,516.46 L193.08,515.35 L195.15,513.69 L196.95,509.54 L198.62,505.80 L200.00,506.08 L201.38,508.15 L203.46,510.92 L205.54,513.69 L207.62,516.46 L209.69,518.12 L211.77,518.54 L213.85,517.85 L215.92,517.57 L218.00,517.15 L220.08,515.35 L221.46,513.69 L223.54,513.00 L226.31,513.42 L229.08,512.31 L231.85,511.20 L233.92,511.62" fill="none" stroke="#2c5f85" stroke-width="1.35" stroke-linejoin="round" clip-path="url(#mid0)"/>
<path d="M166.77,517.15 L168.85,516.46 L170.92,515.35 L173.00,516.46 L175.08,517.85 L177.15,519.23 L178.54,519.92 L180.62,518.95 L182.69,518.54 L184.77,518.12 L186.85,517.57 L188.92,517.15 L191.00,516.46 L193.08,515.35 L195.15,513.69 L196.95,509.54 L198.62,505.80 L200.00,506.08 L201.38,508.15 L203.46,510.92 L205.54,513.69 L207.62,516.46 L209.69,518.12 L211.77,518.54 L213.85,517.85 L215.92,517.57 L218.00,517.15 L220.08,515.35 L221.46,513.69 L223.54,513.00 L226.31,513.42 L229.08,512.31 L231.85,511.20 L233.92,511.62" fill="none" stroke="#4d2748" stroke-width="1.35" stroke-linejoin="round" clip-path="url(#lo0)"/>
<path d="M235.77,511.62 L238.54,512.03 L241.31,511.34 L244.08,509.82 L246.15,510.65 L248.23,512.31 L250.31,514.38 L252.38,515.35 L255.15,515.35 L257.92,515.08 L260.69,515.08 L263.46,515.35 L265.12,512.31 L266.51,507.46 L267.89,505.38 L269.28,506.49 L271.08,509.54 L273.15,513.00 L275.23,516.46 L277.31,518.95 L279.38,520.34 L281.46,520.62 L283.54,519.92 L285.62,517.57 L287.69,515.35 L289.77,513.69 L291.85,512.58 L293.92,512.03 L296.00,511.20 L298.08,509.54 L300.15,507.88 L302.23,507.05 L302.92,507.05 L302.92,508.90 L235.77,508.90 Z" fill="#f4e20c" clip-path="url(#hi0)"/>
<path d="M235.77,511.62 L238.54,512.03 L241.31,511.34 L244.08,509.82 L246.15,510.65 L248.23,512.31 L250.31,514.38 L252.38,515.35 L255.15,515.35 L257.92,515.08 L260.69,515.08 L263.46,515.35 L265.12,512.31 L266.51,507.46 L267.89,505.38 L269.28,506.49 L271.08,509.54 L273.15,513.00 L275.23,516.46 L277.31,518.95 L279.38,520.34 L281.46,520.62 L283.54,519.92 L285.62,517.57 L287.69,515.35 L289.77,513.69 L291.85,512.58 L293.92,512.03 L296.00,511.20 L298.08,509.54 L300.15,507.88 L302.23,507.05 L302.92,507.05" fill="none" stroke="#bfe5f4" stroke-width="2.8" stroke-linejoin="round" opacity="0.8"/>
<path d="M235.77,511.62 L238.54,512.03 L241.31,511.34 L244.08,509.82 L246.15,510.65 L248.23,512.31 L250.31,514.38 L252.38,515.35 L255.15,515.35 L257.92,515.08 L260.69,515.08 L263.46,515.35 L265.12,512.31 L266.51,507.46 L267.89,505.38 L269.28,506.49 L271.08,509.54 L273.15,513.00 L275.23,516.46 L277.31,518.95 L279.38,520.34 L281.46,520.62 L283.54,519.92 L285.62,517.57 L287.69,515.35 L289.77,513.69 L291.85,512.58 L293.92,512.03 L296.00,511.20 L298.08,509.54 L300.15,507.88 L302.23,507.05 L302.92,507.05" fill="none" stroke="#4a7d3a" stroke-width="1.35" stroke-linejoin="round" clip-path="url(#hig0)"/>
<path d="M235.77,511.62 L238.54,512.03 L241.31,511.34 L244.08,509.82 L246.15,510.65 L248.23,512.31 L250.31,514.38 L252.38,515.35 L255.15,515.35 L257.92,515.08 L260.69,515.08 L263.46,515.35 L265.12,512.31 L266.51,507.46 L267.89,505.38 L269.28,506.49 L271.08,509.54 L273.15,513.00 L275.23,516.46 L277.31,518.95 L279.38,520.34 L281.46,520.62 L283.54,519.92 L285.62,517.57 L287.69,515.35 L289.77,513.69 L291.85,512.58 L293.92,512.03 L296.00,511.20 L298.08,509.54 L300.15,507.88 L302.23,507.05 L302.92,507.05" fill="none" stroke="#2c5f85" stroke-width="1.35" stroke-linejoin="round" clip-path="url(#mid0)"/>
<path d="M235.77,511.62 L238.54,512.03 L241.31,511.34 L244.08,509.82 L246.15,510.65 L248.23,512.31 L250.31,514.38 L252.38,515.35 L255.15,515.35 L257.92,515.08 L260.69,515.08 L263.46,515.35 L265.12,512.31 L266.51,507.46 L267.89,505.38 L269.28,506.49 L271.08,509.54 L273.15,513.00 L275.23,516.46 L277.31,518.95 L279.38,520.34 L281.46,520.62 L283.54,519.92 L285.62,517.57 L287.69,515.35 L289.77,513.69 L291.85,512.58 L293.92,512.03 L296.00,511.20 L298.08,509.54 L300.15,507.88 L302.23,507.05 L302.92,507.05" fill="none" stroke="#4d2748" stroke-width="1.35" stroke-linejoin="round" clip-path="url(#lo0)"/>
<path d="M304.77,507.05 L307.26,506.49 L309.62,508.15 L312.38,510.23 L315.15,512.31 L317.92,514.38 L320.69,516.18 L322.77,516.74 L325.54,516.18 L327.62,515.35 L329.69,514.38 L331.08,515.08 L332.46,513.00 L334.12,509.82 L335.92,509.26 L337.72,510.65 L339.38,513.00 L341.46,513.97 L343.54,513.69 L345.62,514.38 L347.69,515.35 L349.77,516.46 L351.85,517.57 L353.51,517.85 L354.62,516.46 L355.72,512.31 L356.69,506.77 L358.08,501.23 L359.88,495.97 L361.54,493.20 L363.62,493.62 L365.69,494.58 L367.77,495.69 L369.85,497.77 L371.92,500.54 L373.31,502.34 L373.31,508.90 L304.77,508.90 Z" fill="#f4e20c" clip-path="url(#hi0)"/>
<path d="M304.77,507.05 L307.26,506.49 L309.62,508.15 L312.38,510.23 L315.15,512.31 L317.92,514.38 L320.69,516.18 L322.77,516.74 L325.54,516.18 L327.62,515.35 L329.69,514.38 L331.08,515.08 L332.46,513.00 L334.12,509.82 L335.92,509.26 L337.72,510.65 L339.38,513.00 L341.46,513.97 L343.54,513.69 L345.62,514.38 L347.69,515.35 L349.77,516.46 L351.85,517.57 L353.51,517.85 L354.62,516.46 L355.72,512.31 L356.69,506.77 L358.08,501.23 L359.88,495.97 L361.54,493.20 L363.62,493.62 L365.69,494.58 L367.77,495.69 L369.85,497.77 L371.92,500.54 L373.31,502.34" fill="none" stroke="#bfe5f4" stroke-width="2.8" stroke-linejoin="round" opacity="0.8"/>
<path d="M304.77,507.05 L307.26,506.49 L309.62,508.15 L312.38,510.23 L315.15,512.31 L317.92,514.38 L320.69,516.18 L322.77,516.74 L325.54,516.18 L327.62,515.35 L329.69,514.38 L331.08,515.08 L332.46,513.00 L334.12,509.82 L335.92,509.26 L337.72,510.65 L339.38,513.00 L341.46,513.97 L343.54,513.69 L345.62,514.38 L347.69,515.35 L349.77,516.46 L351.85,517.57 L353.51,517.85 L354.62,516.46 L355.72,512.31 L356.69,506.77 L358.08,501.23 L359.88,495.97 L361.54,493.20 L363.62,493.62 L365.69,494.58 L367.77,495.69 L369.85,497.77 L371.92,500.54 L373.31,502.34" fill="none" stroke="#4a7d3a" stroke-width="1.35" stroke-linejoin="round" clip-path="url(#hig0)"/>
<path d="M304.77,507.05 L307.26,506.49 L309.62,508.15 L312.38,510.23 L315.15,512.31 L317.92,514.38 L320.69,516.18 L322.77,516.74 L325.54,516.18 L327.62,515.35 L329.69,514.38 L331.08,515.08 L332.46,513.00 L334.12,509.82 L335.92,509.26 L337.72,510.65 L339.38,513.00 L341.46,513.97 L343.54,513.69 L345.62,514.38 L347.69,515.35 L349.77,516.46 L351.85,517.57 L353.51,517.85 L354.62,516.46 L355.72,512.31 L356.69,506.77 L358.08,501.23 L359.88,495.97 L361.54,493.20 L363.62,493.62 L365.69,494.58 L367.77,495.69 L369.85,497.77 L371.92,500.54 L373.31,502.34" fill="none" stroke="#2c5f85" stroke-width="1.35" stroke-linejoin="round" clip-path="url(#mid0)"/>
<path d="M304.77,507.05 L307.26,506.49 L309.62,508.15 L312.38,510.23 L315.15,512.31 L317.92,514.38 L320.69,516.18 L322.77,516.74 L325.54,516.18 L327.62,515.35 L329.69,514.38 L331.08,515.08 L332.46,513.00 L334.12,509.82 L335.92,509.26 L337.72,510.65 L339.38,513.00 L341.46,513.97 L343.54,513.69 L345.62,514.38 L347.69,515.35 L349.77,516.46 L351.85,517.57 L353.51,517.85 L354.62,516.46 L355.72,512.31 L356.69,506.77 L358.08,501.23 L359.88,495.97 L361.54,493.20 L363.62,493.62 L365.69,494.58 L367.77,495.69 L369.85,497.77 L371.92,500.54 L373.31,502.34" fill="none" stroke="#4d2748" stroke-width="1.35" stroke-linejoin="round" clip-path="url(#lo0)"/>
<path d="M374.05,503.31 L376.54,504.00 L378.62,505.11 L380.69,506.77 L382.77,508.85 L384.85,509.82 L386.92,510.23 L388.31,511.62 L389.69,512.58 L391.77,513.69 L393.85,515.35 L395.92,516.46 L398.00,517.15 L400.08,517.57 L402.15,516.74 L404.23,515.77 L406.31,515.35 L408.11,516.18 L409.49,517.15 L410.88,513.69 L412.26,515.08 L413.92,517.15 L416.00,518.95 L418.08,519.51 L420.15,519.23 L422.23,518.54 L424.31,519.23 L426.38,518.54 L428.46,518.12 L429.85,515.77 L431.23,511.62 L432.62,506.77 L434.42,501.92 L436.08,499.85 L437.74,501.92 L438.85,506.08 L440.23,510.65 L441.34,509.54 L442.31,505.38 L442.31,508.90 L374.05,508.90 Z" fill="#f4e20c" clip-path="url(#hi0)"/>
<path d="M374.05,503.31 L376.54,504.00 L378.62,505.11 L380.69,506.77 L382.77,508.85 L384.85,509.82 L386.92,510.23 L388.31,511.62 L389.69,512.58 L391.77,513.69 L393.85,515.35 L395.92,516.46 L398.00,517.15 L400.08,517.57 L402.15,516.74 L404.23,515.77 L406.31,515.35 L408.11,516.18 L409.49,517.15 L410.88,513.69 L412.26,515.08 L413.92,517.15 L416.00,518.95 L418.08,519.51 L420.15,519.23 L422.23,518.54 L424.31,519.23 L426.38,518.54 L428.46,518.12 L429.85,515.77 L431.23,511.62 L432.62,506.77 L434.42,501.92 L436.08,499.85 L437.74,501.92 L438.85,506.08 L440.23,510.65 L441.34,509.54 L442.31,505.38" fill="none" stroke="#bfe5f4" stroke-width="2.8" stroke-linejoin="round" opacity="0.8"/>
<path d="M374.05,503.31 L376.54,504.00 L378.62,505.11 L380.69,506.77 L382.77,508.85 L384.85,509.82 L386.92,510.23 L388.31,511.62 L389.69,512.58 L391.77,513.69 L393.85,515.35 L395.92,516.46 L398.00,517.15 L400.08,517.57 L402.15,516.74 L404.23,515.77 L406.31,515.35 L408.11,516.18 L409.49,517.15 L410.88,513.69 L412.26,515.08 L413.92,517.15 L416.00,518.95 L418.08,519.51 L420.15,519.23 L422.23,518.54 L424.31,519.23 L426.38,518.54 L428.46,518.12 L429.85,515.77 L431.23,511.62 L432.62,506.77 L434.42,501.92 L436.08,499.85 L437.74,501.92 L438.85,506.08 L440.23,510.65 L441.34,509.54 L442.31,505.38" fill="none" stroke="#4a7d3a" stroke-width="1.35" stroke-linejoin="round" clip-path="url(#hig0)"/>
<path d="M374.05,503.31 L376.54,504.00 L378.62,505.11 L380.69,506.77 L382.77,508.85 L384.85,509.82 L386.92,510.23 L388.31,511.62 L389.69,512.58 L391.77,513.69 L393.85,515.35 L395.92,516.46 L398.00,517.15 L400.08,517.57 L402.15,516.74 L404.23,515.77 L406.31,515.35 L408.11,516.18 L409.49,517.15 L410.88,513.69 L412.26,515.08 L413.92,517.15 L416.00,518.95 L418.08,519.51 L420.15,519.23 L422.23,518.54 L424.31,519.23 L426.38,518.54 L428.46,518.12 L429.85,515.77 L431.23,511.62 L432.62,506.77 L434.42,501.92 L436.08,499.85 L437.74,501.92 L438.85,506.08 L440.23,510.65 L441.34,509.54 L442.31,505.38" fill="none" stroke="#2c5f85" stroke-width="1.35" stroke-linejoin="round" clip-path="url(#mid0)"/>
<path d="M374.05,503.31 L376.54,504.00 L378.62,505.11 L380.69,506.77 L382.77,508.85 L384.85,509.82 L386.92,510.23 L388.31,511.62 L389.69,512.58 L391.77,513.69 L393.85,515.35 L395.92,516.46 L398.00,517.15 L400.08,517.57 L402.15,516.74 L404.23,515.77 L406.31,515.35 L408.11,516.18 L409.49,517.15 L410.88,513.69 L412.26,515.08 L413.92,517.15 L416.00,518.95 L418.08,519.51 L420.15,519.23 L422.23,518.54 L424.31,519.23 L426.38,518.54 L428.46,518.12 L429.85,515.77 L431.23,511.62 L432.62,506.77 L434.42,501.92 L436.08,499.85 L437.74,501.92 L438.85,506.08 L440.23,510.65 L441.34,509.54 L442.31,505.38" fill="none" stroke="#4d2748" stroke-width="1.35" stroke-linejoin="round" clip-path="url(#lo0)"/>
<path d="M443.05,502.62 L444.85,497.77 L446.92,494.31 L449.00,492.65 L451.08,492.23 L452.74,494.31 L454.54,497.08 L456.34,500.54 L458.00,503.31 L459.66,504.00 L461.05,502.34 L462.85,502.62 L464.65,501.23 L466.31,499.85 L467.69,500.54 L469.35,501.92 L470.74,499.15 L472.12,497.08 L473.51,499.15 L474.89,503.31 L476.28,506.77 L477.66,508.85 L479.05,508.43 L480.85,510.23 L482.92,513.69 L485.00,517.15 L487.08,519.23 L488.74,519.51 L490.54,518.54 L491.92,517.15 L491.92,508.90 L443.05,508.90 Z" fill="#f4e20c" clip-path="url(#hi0)"/>
<path d="M443.05,502.62 L444.85,497.77 L446.92,494.31 L449.00,492.65 L451.08,492.23 L452.74,494.31 L454.54,497.08 L456.34,500.54 L458.00,503.31 L459.66,504.00 L461.05,502.34 L462.85,502.62 L464.65,501.23 L466.31,499.85 L467.69,500.54 L469.35,501.92 L470.74,499.15 L472.12,497.08 L473.51,499.15 L474.89,503.31 L476.28,506.77 L477.66,508.85 L479.05,508.43 L480.85,510.23 L482.92,513.69 L485.00,517.15 L487.08,519.23 L488.74,519.51 L490.54,518.54 L491.92,517.15" fill="none" stroke="#bfe5f4" stroke-width="2.8" stroke-linejoin="round" opacity="0.8"/>
<path d="M443.05,502.62 L444.85,497.77 L446.92,494.31 L449.00,492.65 L451.08,492.23 L452.74,494.31 L454.54,497.08 L456.34,500.54 L458.00,503.31 L459.66,504.00 L461.05,502.34 L462.85,502.62 L464.65,501.23 L466.31,499.85 L467.69,500.54 L469.35,501.92 L470.74,499.15 L472.12,497.08 L473.51,499.15 L474.89,503.31 L476.28,506.77 L477.66,508.85 L479.05,508.43 L480.85,510.23 L482.92,513.69 L485.00,517.15 L487.08,519.23 L488.74,519.51 L490.54,518.54 L491.92,517.15" fill="none" stroke="#4a7d3a" stroke-width="1.35" stroke-linejoin="round" clip-path="url(#hig0)"/>
<path d="M443.05,502.62 L444.85,497.77 L446.92,494.31 L449.00,492.65 L451.08,492.23 L452.74,494.31 L454.54,497.08 L456.34,500.54 L458.00,503.31 L459.66,504.00 L461.05,502.34 L462.85,502.62 L464.65,501.23 L466.31,499.85 L467.69,500.54 L469.35,501.92 L470.74,499.15 L472.12,497.08 L473.51,499.15 L474.89,503.31 L476.28,506.77 L477.66,508.85 L479.05,508.43 L480.85,510.23 L482.92,513.69 L485.00,517.15 L487.08,519.23 L488.74,519.51 L490.54,518.54 L491.92,517.15" fill="none" stroke="#2c5f85" stroke-width="1.35" stroke-linejoin="round" clip-path="url(#mid0)"/>
<path d="M443.05,502.62 L444.85,497.77 L446.92,494.31 L449.00,492.65 L451.08,492.23 L452.74,494.31 L454.54,497.08 L456.34,500.54 L458.00,503.31 L459.66,504.00 L461.05,502.34 L462.85,502.62 L464.65,501.23 L466.31,499.85 L467.69,500.54 L469.35,501.92 L470.74,499.15 L472.12,497.08 L473.51,499.15 L474.89,503.31 L476.28,506.77 L477.66,508.85 L479.05,508.43 L480.85,510.23 L482.92,513.69 L485.00,517.15 L487.08,519.23 L488.74,519.51 L490.54,518.54 L491.92,517.15" fill="none" stroke="#4d2748" stroke-width="1.35" stroke-linejoin="round" clip-path="url(#lo0)"/>
<path d="M498.15,520.34 L500.92,519.51 L503.69,518.95 L506.46,518.68 L509.23,518.12 L511.31,517.15 L511.31,508.90 L498.15,508.90 Z" fill="#f4e20c" clip-path="url(#hi0)"/>
<path d="M498.15,520.34 L500.92,519.51 L503.69,518.95 L506.46,518.68 L509.23,518.12 L511.31,517.15" fill="none" stroke="#bfe5f4" stroke-width="2.8" stroke-linejoin="round" opacity="0.8"/>
<path d="M498.15,520.34 L500.92,519.51 L503.69,518.95 L506.46,518.68 L509.23,518.12 L511.31,517.15" fill="none" stroke="#4a7d3a" stroke-width="1.35" stroke-linejoin="round" clip-path="url(#hig0)"/>
<path d="M498.15,520.34 L500.92,519.51 L503.69,518.95 L506.46,518.68 L509.23,518.12 L511.31,517.15" fill="none" stroke="#2c5f85" stroke-width="1.35" stroke-linejoin="round" clip-path="url(#mid0)"/>
<path d="M498.15,520.34 L500.92,519.51 L503.69,518.95 L506.46,518.68 L509.23,518.12 L511.31,517.15" fill="none" stroke="#4d2748" stroke-width="1.35" stroke-linejoin="round" clip-path="url(#lo0)"/>
<rect x="27.90" y="487.7" width="68.46" height="43.8" rx="2.5" fill="none" stroke="#4a4a4a" stroke-width="1.15"/>
<text x="29.3" y="497.8" font-size="8.3" fill="#1c1c1c" stroke="#1c1c1c" stroke-width="0.22">30</text>
<rect x="97.16" y="487.7" width="68.46" height="43.8" rx="2.5" fill="none" stroke="#4a4a4a" stroke-width="1.15"/>
<text x="98.56" y="497.8" font-size="8.3" fill="#1c1c1c" stroke="#1c1c1c" stroke-width="0.22">1</text>
<rect x="166.42" y="487.7" width="68.46" height="43.8" rx="2.5" fill="none" stroke="#4a4a4a" stroke-width="1.15"/>
<text x="167.82" y="497.8" font-size="8.3" fill="#1c1c1c" stroke="#1c1c1c" stroke-width="0.22">2</text>
<rect x="235.68" y="487.7" width="68.46" height="43.8" rx="2.5" fill="none" stroke="#4a4a4a" stroke-width="1.15"/>
<text x="237.08" y="497.8" font-size="8.3" fill="#1c1c1c" stroke="#1c1c1c" stroke-width="0.22">3</text>
<rect x="304.94" y="487.7" width="68.46" height="43.8" rx="2.5" fill="none" stroke="#4a4a4a" stroke-width="1.15"/>
<text x="306.34" y="497.8" font-size="8.3" fill="#1c1c1c" stroke="#1c1c1c" stroke-width="0.22">4</text>
<rect x="374.20" y="487.7" width="68.46" height="43.8" rx="2.5" fill="none" stroke="#4a4a4a" stroke-width="1.15"/>
<text x="375.6" y="497.8" font-size="8.3" fill="#1c1c1c" stroke="#1c1c1c" stroke-width="0.22">5</text>
<rect x="443.46" y="487.7" width="68.46" height="43.8" rx="2.5" fill="none" stroke="#4a4a4a" stroke-width="1.15"/>
<text x="444.86" y="497.8" font-size="8.3" fill="#1c1c1c" stroke="#1c1c1c" stroke-width="0.22">6</text>
<rect x="27.9" y="568.9" width="68.46" height="13.7" fill="#dadbdc"/>
<line x1="62.13" y1="547.7" x2="62.13" y2="591.5" stroke="#c4c4c4" stroke-width="0.7"/>
<rect x="97.16" y="568.9" width="68.46" height="13.7" fill="#dadbdc"/>
<line x1="131.39" y1="547.7" x2="131.39" y2="591.5" stroke="#c4c4c4" stroke-width="0.7"/>
<rect x="166.42" y="568.9" width="68.46" height="13.7" fill="#dadbdc"/>
<line x1="200.65" y1="547.7" x2="200.65" y2="591.5" stroke="#c4c4c4" stroke-width="0.7"/>
<rect x="235.68" y="568.9" width="68.46" height="13.7" fill="#dadbdc"/>
<line x1="269.91" y1="547.7" x2="269.91" y2="591.5" stroke="#c4c4c4" stroke-width="0.7"/>
<rect x="304.94" y="568.9" width="68.46" height="13.7" fill="#dadbdc"/>
<line x1="339.17" y1="547.7" x2="339.17" y2="591.5" stroke="#c4c4c4" stroke-width="0.7"/>
<rect x="374.2" y="568.9" width="68.46" height="13.7" fill="#dadbdc"/>
<line x1="408.43" y1="547.7" x2="408.43" y2="591.5" stroke="#c4c4c4" stroke-width="0.7"/>
<rect x="443.46" y="568.9" width="68.46" height="13.7" fill="#dadbdc"/>
<line x1="477.69" y1="547.7" x2="477.69" y2="591.5" stroke="#c4c4c4" stroke-width="0.7"/>
<text x="21.8" y="571.7" font-size="8.1" font-weight="bold" text-anchor="end" fill="#1c1c1c" stroke="#1c1c1c" stroke-width="0.22">180</text>
<text x="21.8" y="585.4" font-size="8.1" font-weight="bold" text-anchor="end" fill="#1c1c1c" stroke="#1c1c1c" stroke-width="0.22">70</text>
<line x1="23.3" y1="568.9000000000001" x2="27.5" y2="568.9000000000001" stroke="#555" stroke-width="0.9"/>
<line x1="23.3" y1="582.6" x2="27.5" y2="582.6" stroke="#555" stroke-width="0.9"/>
<path d="M27.66,574.77 L29.46,574.08 L31.54,574.77 L33.62,576.57 L35.69,574.77 L37.08,574.08 L39.15,575.74 L41.23,577.12 L43.31,578.23 L45.66,579.89 L47.46,577.54 L49.54,574.08 L51.62,570.62 L53.00,572.00 L54.38,573.38 L56.46,572.69 L58.54,574.08 L60.62,575.18 L62.28,574.77 L64.08,572.69 L66.15,571.03 L68.23,570.62 L70.31,570.62 L72.38,570.20 L73.77,569.65 L75.15,571.03 L77.23,572.42 L79.31,573.38 L81.11,571.31 L82.77,569.37 L84.15,568.95 L86.23,569.09 L88.31,569.92 L90.38,570.62 L92.46,571.03 L94.12,569.65 L95.92,569.92 L95.92,568.90 L27.66,568.90 Z" fill="#f4e20c" clip-path="url(#hi1)"/>
<path d="M27.66,574.77 L29.46,574.08 L31.54,574.77 L33.62,576.57 L35.69,574.77 L37.08,574.08 L39.15,575.74 L41.23,577.12 L43.31,578.23 L45.66,579.89 L47.46,577.54 L49.54,574.08 L51.62,570.62 L53.00,572.00 L54.38,573.38 L56.46,572.69 L58.54,574.08 L60.62,575.18 L62.28,574.77 L64.08,572.69 L66.15,571.03 L68.23,570.62 L70.31,570.62 L72.38,570.20 L73.77,569.65 L75.15,571.03 L77.23,572.42 L79.31,573.38 L81.11,571.31 L82.77,569.37 L84.15,568.95 L86.23,569.09 L88.31,569.92 L90.38,570.62 L92.46,571.03 L94.12,569.65 L95.92,569.92" fill="none" stroke="#bfe5f4" stroke-width="2.8" stroke-linejoin="round" opacity="0.8"/>
<path d="M27.66,574.77 L29.46,574.08 L31.54,574.77 L33.62,576.57 L35.69,574.77 L37.08,574.08 L39.15,575.74 L41.23,577.12 L43.31,578.23 L45.66,579.89 L47.46,577.54 L49.54,574.08 L51.62,570.62 L53.00,572.00 L54.38,573.38 L56.46,572.69 L58.54,574.08 L60.62,575.18 L62.28,574.77 L64.08,572.69 L66.15,571.03 L68.23,570.62 L70.31,570.62 L72.38,570.20 L73.77,569.65 L75.15,571.03 L77.23,572.42 L79.31,573.38 L81.11,571.31 L82.77,569.37 L84.15,568.95 L86.23,569.09 L88.31,569.92 L90.38,570.62 L92.46,571.03 L94.12,569.65 L95.92,569.92" fill="none" stroke="#4a7d3a" stroke-width="1.35" stroke-linejoin="round" clip-path="url(#hig1)"/>
<path d="M27.66,574.77 L29.46,574.08 L31.54,574.77 L33.62,576.57 L35.69,574.77 L37.08,574.08 L39.15,575.74 L41.23,577.12 L43.31,578.23 L45.66,579.89 L47.46,577.54 L49.54,574.08 L51.62,570.62 L53.00,572.00 L54.38,573.38 L56.46,572.69 L58.54,574.08 L60.62,575.18 L62.28,574.77 L64.08,572.69 L66.15,571.03 L68.23,570.62 L70.31,570.62 L72.38,570.20 L73.77,569.65 L75.15,571.03 L77.23,572.42 L79.31,573.38 L81.11,571.31 L82.77,569.37 L84.15,568.95 L86.23,569.09 L88.31,569.92 L90.38,570.62 L92.46,571.03 L94.12,569.65 L95.92,569.92" fill="none" stroke="#2c5f85" stroke-width="1.35" stroke-linejoin="round" clip-path="url(#mid1)"/>
<path d="M27.66,574.77 L29.46,574.08 L31.54,574.77 L33.62,576.57 L35.69,574.77 L37.08,574.08 L39.15,575.74 L41.23,577.12 L43.31,578.23 L45.66,579.89 L47.46,577.54 L49.54,574.08 L51.62,570.62 L53.00,572.00 L54.38,573.38 L56.46,572.69 L58.54,574.08 L60.62,575.18 L62.28,574.77 L64.08,572.69 L66.15,571.03 L68.23,570.62 L70.31,570.62 L72.38,570.20 L73.77,569.65 L75.15,571.03 L77.23,572.42 L79.31,573.38 L81.11,571.31 L82.77,569.37 L84.15,568.95 L86.23,569.09 L88.31,569.92 L90.38,570.62 L92.46,571.03 L94.12,569.65 L95.92,569.92" fill="none" stroke="#4d2748" stroke-width="1.35" stroke-linejoin="round" clip-path="url(#lo1)"/>
<path d="M97.77,571.03 L99.43,573.38 L101.23,572.69 L103.31,574.77 L105.38,576.85 L107.46,578.23 L109.54,579.34 L111.34,579.89 L112.72,581.28 L114.38,580.31 L116.46,579.62 L117.85,577.54 L119.65,574.77 L121.03,573.38 L122.69,576.15 L124.08,573.38 L125.46,568.82 L127.12,569.92 L128.92,572.00 L131.00,573.38 L133.08,574.77 L135.43,577.12 L137.23,575.46 L139.31,572.69 L141.38,570.62 L143.46,571.58 L145.54,573.38 L147.62,574.77 L149.28,575.18 L151.08,573.38 L152.88,570.62 L154.54,569.23 L156.62,567.15 L158.69,567.43 L160.77,567.15 L162.85,567.43 L164.92,568.54 L164.92,568.90 L97.77,568.90 Z" fill="#f4e20c" clip-path="url(#hi1)"/>
<path d="M97.77,571.03 L99.43,573.38 L101.23,572.69 L103.31,574.77 L105.38,576.85 L107.46,578.23 L109.54,579.34 L111.34,579.89 L112.72,581.28 L114.38,580.31 L116.46,579.62 L117.85,577.54 L119.65,574.77 L121.03,573.38 L122.69,576.15 L124.08,573.38 L125.46,568.82 L127.12,569.92 L128.92,572.00 L131.00,573.38 L133.08,574.77 L135.43,577.12 L137.23,575.46 L139.31,572.69 L141.38,570.62 L143.46,571.58 L145.54,573.38 L147.62,574.77 L149.28,575.18 L151.08,573.38 L152.88,570.62 L154.54,569.23 L156.62,567.15 L158.69,567.43 L160.77,567.15 L162.85,567.43 L164.92,568.54" fill="none" stroke="#bfe5f4" stroke-width="2.8" stroke-linejoin="round" opacity="0.8"/>
<path d="M97.77,571.03 L99.43,573.38 L101.23,572.69 L103.31,574.77 L105.38,576.85 L107.46,578.23 L109.54,579.34 L111.34,579.89 L112.72,581.28 L114.38,580.31 L116.46,579.62 L117.85,577.54 L119.65,574.77 L121.03,573.38 L122.69,576.15 L124.08,573.38 L125.46,568.82 L127.12,569.92 L128.92,572.00 L131.00,573.38 L133.08,574.77 L135.43,577.12 L137.23,575.46 L139.31,572.69 L141.38,570.62 L143.46,571.58 L145.54,573.38 L147.62,574.77 L149.28,575.18 L151.08,573.38 L152.88,570.62 L154.54,569.23 L156.62,567.15 L158.69,567.43 L160.77,567.15 L162.85,567.43 L164.92,568.54" fill="none" stroke="#4a7d3a" stroke-width="1.35" stroke-linejoin="round" clip-path="url(#hig1)"/>
<path d="M97.77,571.03 L99.43,573.38 L101.23,572.69 L103.31,574.77 L105.38,576.85 L107.46,578.23 L109.54,579.34 L111.34,579.89 L112.72,581.28 L114.38,580.31 L116.46,579.62 L117.85,577.54 L119.65,574.77 L121.03,573.38 L122.69,576.15 L124.08,573.38 L125.46,568.82 L127.12,569.92 L128.92,572.00 L131.00,573.38 L133.08,574.77 L135.43,577.12 L137.23,575.46 L139.31,572.69 L141.38,570.62 L143.46,571.58 L145.54,573.38 L147.62,574.77 L149.28,575.18 L151.08,573.38 L152.88,570.62 L154.54,569.23 L156.62,567.15 L158.69,567.43 L160.77,567.15 L162.85,567.43 L164.92,568.54" fill="none" stroke="#2c5f85" stroke-width="1.35" stroke-linejoin="round" clip-path="url(#mid1)"/>
<path d="M97.77,571.03 L99.43,573.38 L101.23,572.69 L103.31,574.77 L105.38,576.85 L107.46,578.23 L109.54,579.34 L111.34,579.89 L112.72,581.28 L114.38,580.31 L116.46,579.62 L117.85,577.54 L119.65,574.77 L121.03,573.38 L122.69,576.15 L124.08,573.38 L125.46,568.82 L127.12,569.92 L128.92,572.00 L131.00,573.38 L133.08,574.77 L135.43,577.12 L137.23,575.46 L139.31,572.69 L141.38,570.62 L143.46,571.58 L145.54,573.38 L147.62,574.77 L149.28,575.18 L151.08,573.38 L152.88,570.62 L154.54,569.23 L156.62,567.15 L158.69,567.43 L160.77,567.15 L162.85,567.43 L164.92,568.54" fill="none" stroke="#4d2748" stroke-width="1.35" stroke-linejoin="round" clip-path="url(#lo1)"/>
<path d="M166.77,569.92 L168.85,571.31 L170.23,572.00 L171.62,568.54 L173.69,563.00 L175.77,558.57 L177.85,559.54 L180.62,561.34 L183.38,563.28 L186.15,565.08 L188.23,566.46 L189.62,569.92 L191.00,568.82 L192.38,566.88 L193.35,569.23 L194.74,572.69 L196.54,575.46 L198.62,576.15 L200.69,577.54 L202.77,578.92 L204.85,579.34 L206.92,578.51 L209.00,577.95 L211.08,577.12 L212.46,576.85 L213.85,575.74 L215.92,574.35 L218.00,573.38 L219.38,572.00 L220.77,572.42 L222.15,571.03 L224.23,570.62 L226.31,570.62 L228.38,570.20 L230.18,569.65 L231.85,567.15 L233.23,566.05 L234.62,565.49 L234.62,568.90 L166.77,568.90 Z" fill="#f4e20c" clip-path="url(#hi1)"/>
<path d="M166.77,569.92 L168.85,571.31 L170.23,572.00 L171.62,568.54 L173.69,563.00 L175.77,558.57 L177.85,559.54 L180.62,561.34 L183.38,563.28 L186.15,565.08 L188.23,566.46 L189.62,569.92 L191.00,568.82 L192.38,566.88 L193.35,569.23 L194.74,572.69 L196.54,575.46 L198.62,576.15 L200.69,577.54 L202.77,578.92 L204.85,579.34 L206.92,578.51 L209.00,577.95 L211.08,577.12 L212.46,576.85 L213.85,575.74 L215.92,574.35 L218.00,573.38 L219.38,572.00 L220.77,572.42 L222.15,571.03 L224.23,570.62 L226.31,570.62 L228.38,570.20 L230.18,569.65 L231.85,567.15 L233.23,566.05 L234.62,565.49" fill="none" stroke="#bfe5f4" stroke-width="2.8" stroke-linejoin="round" opacity="0.8"/>
<path d="M166.77,569.92 L168.85,571.31 L170.23,572.00 L171.62,568.54 L173.69,563.00 L175.77,558.57 L177.85,559.54 L180.62,561.34 L183.38,563.28 L186.15,565.08 L188.23,566.46 L189.62,569.92 L191.00,568.82 L192.38,566.88 L193.35,569.23 L194.74,572.69 L196.54,575.46 L198.62,576.15 L200.69,577.54 L202.77,578.92 L204.85,579.34 L206.92,578.51 L209.00,577.95 L211.08,577.12 L212.46,576.85 L213.85,575.74 L215.92,574.35 L218.00,573.38 L219.38,572.00 L220.77,572.42 L222.15,571.03 L224.23,570.62 L226.31,570.62 L228.38,570.20 L230.18,569.65 L231.85,567.15 L233.23,566.05 L234.62,565.49" fill="none" stroke="#4a7d3a" stroke-width="1.35" stroke-linejoin="round" clip-path="url(#hig1)"/>
<path d="M166.77,569.92 L168.85,571.31 L170.23,572.00 L171.62,568.54 L173.69,563.00 L175.77,558.57 L177.85,559.54 L180.62,561.34 L183.38,563.28 L186.15,565.08 L188.23,566.46 L189.62,569.92 L191.00,568.82 L192.38,566.88 L193.35,569.23 L194.74,572.69 L196.54,575.46 L198.62,576.15 L200.69,577.54 L202.77,578.92 L204.85,579.34 L206.92,578.51 L209.00,577.95 L211.08,577.12 L212.46,576.85 L213.85,575.74 L215.92,574.35 L218.00,573.38 L219.38,572.00 L220.77,572.42 L222.15,571.03 L224.23,570.62 L226.31,570.62 L228.38,570.20 L230.18,569.65 L231.85,567.15 L233.23,566.05 L234.62,565.49" fill="none" stroke="#2c5f85" stroke-width="1.35" stroke-linejoin="round" clip-path="url(#mid1)"/>
<path d="M166.77,569.92 L168.85,571.31 L170.23,572.00 L171.62,568.54 L173.69,563.00 L175.77,558.57 L177.85,559.54 L180.62,561.34 L183.38,563.28 L186.15,565.08 L188.23,566.46 L189.62,569.92 L191.00,568.82 L192.38,566.88 L193.35,569.23 L194.74,572.69 L196.54,575.46 L198.62,576.15 L200.69,577.54 L202.77,578.92 L204.85,579.34 L206.92,578.51 L209.00,577.95 L211.08,577.12 L212.46,576.85 L213.85,575.74 L215.92,574.35 L218.00,573.38 L219.38,572.00 L220.77,572.42 L222.15,571.03 L224.23,570.62 L226.31,570.62 L228.38,570.20 L230.18,569.65 L231.85,567.15 L233.23,566.05 L234.62,565.49" fill="none" stroke="#4d2748" stroke-width="1.35" stroke-linejoin="round" clip-path="url(#lo1)"/>
<path d="M235.77,567.15 L237.85,567.85 L239.92,569.23 L242.69,571.31 L245.46,573.38 L248.23,575.46 L250.31,577.54 L252.38,578.23 L253.77,578.92 L255.43,577.95 L257.23,576.57 L259.31,575.74 L261.38,575.46 L263.18,574.08 L264.85,571.31 L266.23,569.65 L267.34,572.00 L268.72,575.46 L270.11,576.57 L271.77,576.57 L273.85,575.74 L275.92,574.77 L278.00,574.08 L280.08,573.38 L282.15,572.42 L284.23,573.38 L286.31,574.08 L288.11,570.62 L289.77,566.46 L291.43,563.00 L293.23,560.51 L294.62,562.31 L296.00,565.08 L297.38,567.85 L298.77,570.62 L300.57,573.38 L302.23,574.77 L303.62,574.08 L303.62,568.90 L235.77,568.90 Z" fill="#f4e20c" clip-path="url(#hi1)"/>
<path d="M235.77,567.15 L237.85,567.85 L239.92,569.23 L242.69,571.31 L245.46,573.38 L248.23,575.46 L250.31,577.54 L252.38,578.23 L253.77,578.92 L255.43,577.95 L257.23,576.57 L259.31,575.74 L261.38,575.46 L263.18,574.08 L264.85,571.31 L266.23,569.65 L267.34,572.00 L268.72,575.46 L270.11,576.57 L271.77,576.57 L273.85,575.74 L275.92,574.77 L278.00,574.08 L280.08,573.38 L282.15,572.42 L284.23,573.38 L286.31,574.08 L288.11,570.62 L289.77,566.46 L291.43,563.00 L293.23,560.51 L294.62,562.31 L296.00,565.08 L297.38,567.85 L298.77,570.62 L300.57,573.38 L302.23,574.77 L303.62,574.08" fill="none" stroke="#bfe5f4" stroke-width="2.8" stroke-linejoin="round" opacity="0.8"/>
<path d="M235.77,567.15 L237.85,567.85 L239.92,569.23 L242.69,571.31 L245.46,573.38 L248.23,575.46 L250.31,577.54 L252.38,578.23 L253.77,578.92 L255.43,577.95 L257.23,576.57 L259.31,575.74 L261.38,575.46 L263.18,574.08 L264.85,571.31 L266.23,569.65 L267.34,572.00 L268.72,575.46 L270.11,576.57 L271.77,576.57 L273.85,575.74 L275.92,574.77 L278.00,574.08 L280.08,573.38 L282.15,572.42 L284.23,573.38 L286.31,574.08 L288.11,570.62 L289.77,566.46 L291.43,563.00 L293.23,560.51 L294.62,562.31 L296.00,565.08 L297.38,567.85 L298.77,570.62 L300.57,573.38 L302.23,574.77 L303.62,574.08" fill="none" stroke="#4a7d3a" stroke-width="1.35" stroke-linejoin="round" clip-path="url(#hig1)"/>
<path d="M235.77,567.15 L237.85,567.85 L239.92,569.23 L242.69,571.31 L245.46,573.38 L248.23,575.46 L250.31,577.54 L252.38,578.23 L253.77,578.92 L255.43,577.95 L257.23,576.57 L259.31,575.74 L261.38,575.46 L263.18,574.08 L264.85,571.31 L266.23,569.65 L267.34,572.00 L268.72,575.46 L270.11,576.57 L271.77,576.57 L273.85,575.74 L275.92,574.77 L278.00,574.08 L280.08,573.38 L282.15,572.42 L284.23,573.38 L286.31,574.08 L288.11,570.62 L289.77,566.46 L291.43,563.00 L293.23,560.51 L294.62,562.31 L296.00,565.08 L297.38,567.85 L298.77,570.62 L300.57,573.38 L302.23,574.77 L303.62,574.08" fill="none" stroke="#2c5f85" stroke-width="1.35" stroke-linejoin="round" clip-path="url(#mid1)"/>
<path d="M235.77,567.15 L237.85,567.85 L239.92,569.23 L242.69,571.31 L245.46,573.38 L248.23,575.46 L250.31,577.54 L252.38,578.23 L253.77,578.92 L255.43,577.95 L257.23,576.57 L259.31,575.74 L261.38,575.46 L263.18,574.08 L264.85,571.31 L266.23,569.65 L267.34,572.00 L268.72,575.46 L270.11,576.57 L271.77,576.57 L273.85,575.74 L275.92,574.77 L278.00,574.08 L280.08,573.38 L282.15,572.42 L284.23,573.38 L286.31,574.08 L288.11,570.62 L289.77,566.46 L291.43,563.00 L293.23,560.51 L294.62,562.31 L296.00,565.08 L297.38,567.85 L298.77,570.62 L300.57,573.38 L302.23,574.77 L303.62,574.08" fill="none" stroke="#4d2748" stroke-width="1.35" stroke-linejoin="round" clip-path="url(#lo1)"/>
<path d="M304.77,574.77 L306.85,575.18 L308.92,575.46 L311.00,574.77 L313.08,575.74 L315.15,577.12 L317.23,577.54 L319.31,577.95 L321.38,576.85 L322.77,574.77 L324.15,572.69 L325.82,571.31 L327.20,572.00 L328.31,569.23 L329.42,566.46 L331.08,567.15 L332.46,570.62 L334.12,573.38 L335.92,575.18 L337.72,576.57 L339.38,577.54 L341.05,577.12 L342.43,573.38 L343.82,569.92 L345.20,567.85 L346.58,569.23 L347.97,568.26 L349.77,567.15 L351.57,568.82 L353.23,571.31 L355.31,574.08 L357.38,577.54 L359.46,580.31 L361.26,580.72 L362.65,578.23 L364.03,574.08 L365.42,571.31 L366.80,570.62 L368.46,568.54 L369.85,564.38 L371.23,560.92 L372.89,560.23 L372.89,568.90 L304.77,568.90 Z" fill="#f4e20c" clip-path="url(#hi1)"/>
<path d="M304.77,574.77 L306.85,575.18 L308.92,575.46 L311.00,574.77 L313.08,575.74 L315.15,577.12 L317.23,577.54 L319.31,577.95 L321.38,576.85 L322.77,574.77 L324.15,572.69 L325.82,571.31 L327.20,572.00 L328.31,569.23 L329.42,566.46 L331.08,567.15 L332.46,570.62 L334.12,573.38 L335.92,575.18 L337.72,576.57 L339.38,577.54 L341.05,577.12 L342.43,573.38 L343.82,569.92 L345.20,567.85 L346.58,569.23 L347.97,568.26 L349.77,567.15 L351.57,568.82 L353.23,571.31 L355.31,574.08 L357.38,577.54 L359.46,580.31 L361.26,580.72 L362.65,578.23 L364.03,574.08 L365.42,571.31 L366.80,570.62 L368.46,568.54 L369.85,564.38 L371.23,560.92 L372.89,560.23" fill="none" stroke="#bfe5f4" stroke-width="2.8" stroke-linejoin="round" opacity="0.8"/>
<path d="M304.77,574.77 L306.85,575.18 L308.92,575.46 L311.00,574.77 L313.08,575.74 L315.15,577.12 L317.23,577.54 L319.31,577.95 L321.38,576.85 L322.77,574.77 L324.15,572.69 L325.82,571.31 L327.20,572.00 L328.31,569.23 L329.42,566.46 L331.08,567.15 L332.46,570.62 L334.12,573.38 L335.92,575.18 L337.72,576.57 L339.38,577.54 L341.05,577.12 L342.43,573.38 L343.82,569.92 L345.20,567.85 L346.58,569.23 L347.97,568.26 L349.77,567.15 L351.57,568.82 L353.23,571.31 L355.31,574.08 L357.38,577.54 L359.46,580.31 L361.26,580.72 L362.65,578.23 L364.03,574.08 L365.42,571.31 L366.80,570.62 L368.46,568.54 L369.85,564.38 L371.23,560.92 L372.89,560.23" fill="none" stroke="#4a7d3a" stroke-width="1.35" stroke-linejoin="round" clip-path="url(#hig1)"/>
<path d="M304.77,574.77 L306.85,575.18 L308.92,575.46 L311.00,574.77 L313.08,575.74 L315.15,577.12 L317.23,577.54 L319.31,577.95 L321.38,576.85 L322.77,574.77 L324.15,572.69 L325.82,571.31 L327.20,572.00 L328.31,569.23 L329.42,566.46 L331.08,567.15 L332.46,570.62 L334.12,573.38 L335.92,575.18 L337.72,576.57 L339.38,577.54 L341.05,577.12 L342.43,573.38 L343.82,569.92 L345.20,567.85 L346.58,569.23 L347.97,568.26 L349.77,567.15 L351.57,568.82 L353.23,571.31 L355.31,574.08 L357.38,577.54 L359.46,580.31 L361.26,580.72 L362.65,578.23 L364.03,574.08 L365.42,571.31 L366.80,570.62 L368.46,568.54 L369.85,564.38 L371.23,560.92 L372.89,560.23" fill="none" stroke="#2c5f85" stroke-width="1.35" stroke-linejoin="round" clip-path="url(#mid1)"/>
<path d="M304.77,574.77 L306.85,575.18 L308.92,575.46 L311.00,574.77 L313.08,575.74 L315.15,577.12 L317.23,577.54 L319.31,577.95 L321.38,576.85 L322.77,574.77 L324.15,572.69 L325.82,571.31 L327.20,572.00 L328.31,569.23 L329.42,566.46 L331.08,567.15 L332.46,570.62 L334.12,573.38 L335.92,575.18 L337.72,576.57 L339.38,577.54 L341.05,577.12 L342.43,573.38 L343.82,569.92 L345.20,567.85 L346.58,569.23 L347.97,568.26 L349.77,567.15 L351.57,568.82 L353.23,571.31 L355.31,574.08 L357.38,577.54 L359.46,580.31 L361.26,580.72 L362.65,578.23 L364.03,574.08 L365.42,571.31 L366.80,570.62 L368.46,568.54 L369.85,564.38 L371.23,560.92 L372.89,560.23" fill="none" stroke="#4d2748" stroke-width="1.35" stroke-linejoin="round" clip-path="url(#lo1)"/>
<path d="M374.05,561.34 L375.15,564.38 L376.54,569.23 L377.92,572.69 L379.58,574.08 L380.97,572.00 L382.35,569.92 L384.15,570.62 L385.95,569.65 L387.62,567.85 L389.69,567.15 L391.77,566.46 L393.43,566.88 L394.82,567.85 L396.20,564.38 L397.58,560.23 L399.38,559.54 L401.18,559.95 L402.85,560.23 L404.23,559.12 L405.62,561.62 L407.28,563.69 L408.66,565.77 L410.46,568.26 L412.26,569.23 L413.92,567.85 L415.31,566.88 L416.69,567.85 L418.77,569.23 L420.57,570.62 L422.23,572.69 L423.89,576.15 L425.28,579.34 L426.38,581.28 L427.77,578.23 L429.15,573.38 L430.54,569.65 L432.62,569.23 L434.69,569.65 L436.77,570.34 L438.85,571.03 L440.92,572.00 L442.31,572.42 L442.31,568.90 L374.05,568.90 Z" fill="#f4e20c" clip-path="url(#hi1)"/>
<path d="M374.05,561.34 L375.15,564.38 L376.54,569.23 L377.92,572.69 L379.58,574.08 L380.97,572.00 L382.35,569.92 L384.15,570.62 L385.95,569.65 L387.62,567.85 L389.69,567.15 L391.77,566.46 L393.43,566.88 L394.82,567.85 L396.20,564.38 L397.58,560.23 L399.38,559.54 L401.18,559.95 L402.85,560.23 L404.23,559.12 L405.62,561.62 L407.28,563.69 L408.66,565.77 L410.46,568.26 L412.26,569.23 L413.92,567.85 L415.31,566.88 L416.69,567.85 L418.77,569.23 L420.57,570.62 L422.23,572.69 L423.89,576.15 L425.28,579.34 L426.38,581.28 L427.77,578.23 L429.15,573.38 L430.54,569.65 L432.62,569.23 L434.69,569.65 L436.77,570.34 L438.85,571.03 L440.92,572.00 L442.31,572.42" fill="none" stroke="#bfe5f4" stroke-width="2.8" stroke-linejoin="round" opacity="0.8"/>
<path d="M374.05,561.34 L375.15,564.38 L376.54,569.23 L377.92,572.69 L379.58,574.08 L380.97,572.00 L382.35,569.92 L384.15,570.62 L385.95,569.65 L387.62,567.85 L389.69,567.15 L391.77,566.46 L393.43,566.88 L394.82,567.85 L396.20,564.38 L397.58,560.23 L399.38,559.54 L401.18,559.95 L402.85,560.23 L404.23,559.12 L405.62,561.62 L407.28,563.69 L408.66,565.77 L410.46,568.26 L412.26,569.23 L413.92,567.85 L415.31,566.88 L416.69,567.85 L418.77,569.23 L420.57,570.62 L422.23,572.69 L423.89,576.15 L425.28,579.34 L426.38,581.28 L427.77,578.23 L429.15,573.38 L430.54,569.65 L432.62,569.23 L434.69,569.65 L436.77,570.34 L438.85,571.03 L440.92,572.00 L442.31,572.42" fill="none" stroke="#4a7d3a" stroke-width="1.35" stroke-linejoin="round" clip-path="url(#hig1)"/>
<path d="M374.05,561.34 L375.15,564.38 L376.54,569.23 L377.92,572.69 L379.58,574.08 L380.97,572.00 L382.35,569.92 L384.15,570.62 L385.95,569.65 L387.62,567.85 L389.69,567.15 L391.77,566.46 L393.43,566.88 L394.82,567.85 L396.20,564.38 L397.58,560.23 L399.38,559.54 L401.18,559.95 L402.85,560.23 L404.23,559.12 L405.62,561.62 L407.28,563.69 L408.66,565.77 L410.46,568.26 L412.26,569.23 L413.92,567.85 L415.31,566.88 L416.69,567.85 L418.77,569.23 L420.57,570.62 L422.23,572.69 L423.89,576.15 L425.28,579.34 L426.38,581.28 L427.77,578.23 L429.15,573.38 L430.54,569.65 L432.62,569.23 L434.69,569.65 L436.77,570.34 L438.85,571.03 L440.92,572.00 L442.31,572.42" fill="none" stroke="#2c5f85" stroke-width="1.35" stroke-linejoin="round" clip-path="url(#mid1)"/>
<path d="M374.05,561.34 L375.15,564.38 L376.54,569.23 L377.92,572.69 L379.58,574.08 L380.97,572.00 L382.35,569.92 L384.15,570.62 L385.95,569.65 L387.62,567.85 L389.69,567.15 L391.77,566.46 L393.43,566.88 L394.82,567.85 L396.20,564.38 L397.58,560.23 L399.38,559.54 L401.18,559.95 L402.85,560.23 L404.23,559.12 L405.62,561.62 L407.28,563.69 L408.66,565.77 L410.46,568.26 L412.26,569.23 L413.92,567.85 L415.31,566.88 L416.69,567.85 L418.77,569.23 L420.57,570.62 L422.23,572.69 L423.89,576.15 L425.28,579.34 L426.38,581.28 L427.77,578.23 L429.15,573.38 L430.54,569.65 L432.62,569.23 L434.69,569.65 L436.77,570.34 L438.85,571.03 L440.92,572.00 L442.31,572.42" fill="none" stroke="#4d2748" stroke-width="1.35" stroke-linejoin="round" clip-path="url(#lo1)"/>
<path d="M443.05,573.38 L445.54,572.69 L447.62,572.42 L449.69,572.00 L451.77,572.42 L453.85,571.58 L455.92,571.31 L458.00,571.03 L460.08,572.00 L462.15,572.97 L464.23,572.69 L466.31,572.42 L468.38,572.00 L470.46,570.62 L472.54,568.54 L474.34,568.82 L476.00,570.20 L478.08,572.00 L480.15,573.80 L482.23,575.18 L484.31,576.15 L485.69,575.46 L487.08,573.80 L488.74,572.69 L488.74,568.90 L443.05,568.90 Z" fill="#f4e20c" clip-path="url(#hi1)"/>
<path d="M443.05,573.38 L445.54,572.69 L447.62,572.42 L449.69,572.00 L451.77,572.42 L453.85,571.58 L455.92,571.31 L458.00,571.03 L460.08,572.00 L462.15,572.97 L464.23,572.69 L466.31,572.42 L468.38,572.00 L470.46,570.62 L472.54,568.54 L474.34,568.82 L476.00,570.20 L478.08,572.00 L480.15,573.80 L482.23,575.18 L484.31,576.15 L485.69,575.46 L487.08,573.80 L488.74,572.69" fill="none" stroke="#bfe5f4" stroke-width="2.8" stroke-linejoin="round" opacity="0.8"/>
<path d="M443.05,573.38 L445.54,572.69 L447.62,572.42 L449.69,572.00 L451.77,572.42 L453.85,571.58 L455.92,571.31 L458.00,571.03 L460.08,572.00 L462.15,572.97 L464.23,572.69 L466.31,572.42 L468.38,572.00 L470.46,570.62 L472.54,568.54 L474.34,568.82 L476.00,570.20 L478.08,572.00 L480.15,573.80 L482.23,575.18 L484.31,576.15 L485.69,575.46 L487.08,573.80 L488.74,572.69" fill="none" stroke="#4a7d3a" stroke-width="1.35" stroke-linejoin="round" clip-path="url(#hig1)"/>
<path d="M443.05,573.38 L445.54,572.69 L447.62,572.42 L449.69,572.00 L451.77,572.42 L453.85,571.58 L455.92,571.31 L458.00,571.03 L460.08,572.00 L462.15,572.97 L464.23,572.69 L466.31,572.42 L468.38,572.00 L470.46,570.62 L472.54,568.54 L474.34,568.82 L476.00,570.20 L478.08,572.00 L480.15,573.80 L482.23,575.18 L484.31,576.15 L485.69,575.46 L487.08,573.80 L488.74,572.69" fill="none" stroke="#2c5f85" stroke-width="1.35" stroke-linejoin="round" clip-path="url(#mid1)"/>
<path d="M443.05,573.38 L445.54,572.69 L447.62,572.42 L449.69,572.00 L451.77,572.42 L453.85,571.58 L455.92,571.31 L458.00,571.03 L460.08,572.00 L462.15,572.97 L464.23,572.69 L466.31,572.42 L468.38,572.00 L470.46,570.62 L472.54,568.54 L474.34,568.82 L476.00,570.20 L478.08,572.00 L480.15,573.80 L482.23,575.18 L484.31,576.15 L485.69,575.46 L487.08,573.80 L488.74,572.69" fill="none" stroke="#4d2748" stroke-width="1.35" stroke-linejoin="round" clip-path="url(#lo1)"/>
<rect x="27.90" y="547.7" width="68.46" height="43.8" rx="2.5" fill="none" stroke="#4a4a4a" stroke-width="1.15"/>
<text x="29.3" y="557.8" font-size="8.3" fill="#1c1c1c" stroke="#1c1c1c" stroke-width="0.22">7</text>
<rect x="97.16" y="547.7" width="68.46" height="43.8" rx="2.5" fill="none" stroke="#4a4a4a" stroke-width="1.15"/>
<text x="98.56" y="557.8" font-size="8.3" fill="#1c1c1c" stroke="#1c1c1c" stroke-width="0.22">8</text>
<rect x="166.42" y="547.7" width="68.46" height="43.8" rx="2.5" fill="none" stroke="#4a4a4a" stroke-width="1.15"/>
<text x="167.82" y="557.8" font-size="8.3" fill="#1c1c1c" stroke="#1c1c1c" stroke-width="0.22">9</text>
<rect x="235.68" y="547.7" width="68.46" height="43.8" rx="2.5" fill="none" stroke="#4a4a4a" stroke-width="1.15"/>
<text x="237.08" y="557.8" font-size="8.3" fill="#1c1c1c" stroke="#1c1c1c" stroke-width="0.22">10</text>
<rect x="304.94" y="547.7" width="68.46" height="43.8" rx="2.5" fill="none" stroke="#4a4a4a" stroke-width="1.15"/>
<text x="306.34" y="557.8" font-size="8.3" fill="#1c1c1c" stroke="#1c1c1c" stroke-width="0.22">11</text>
<rect x="374.20" y="547.7" width="68.46" height="43.8" rx="2.5" fill="none" stroke="#4a4a4a" stroke-width="1.15"/>
<text x="375.6" y="557.8" font-size="8.3" fill="#1c1c1c" stroke="#1c1c1c" stroke-width="0.22">12</text>
<rect x="443.46" y="547.7" width="68.46" height="43.8" rx="2.5" fill="none" stroke="#4a4a4a" stroke-width="1.15"/>
<text x="444.86" y="557.8" font-size="8.3" fill="#1c1c1c" stroke="#1c1c1c" stroke-width="0.22">13</text>
<text x="28.0" y="542.1" font-size="8.4" text-anchor="middle" fill="#1c1c1c" stroke="#1c1c1c" stroke-width="0.22">12am</text>
<text x="62.13" y="542.1" font-size="8.4" text-anchor="middle" fill="#a5a5a5" stroke="#a5a5a5" stroke-width="0.22">12pm</text>
<text x="97.26" y="542.1" font-size="8.2" font-weight="bold" text-anchor="middle" fill="#1c1c1c" stroke="#1c1c1c" stroke-width="0.22">12am</text>
<text x="131.39" y="542.1" font-size="8.4" text-anchor="middle" fill="#a5a5a5" stroke="#a5a5a5" stroke-width="0.22">12pm</text>
<text x="166.52" y="542.1" font-size="8.2" font-weight="bold" text-anchor="middle" fill="#1c1c1c" stroke="#1c1c1c" stroke-width="0.22">12am</text>
<text x="200.65" y="542.1" font-size="8.4" text-anchor="middle" fill="#a5a5a5" stroke="#a5a5a5" stroke-width="0.22">12pm</text>
<text x="235.78" y="542.1" font-size="8.2" font-weight="bold" text-anchor="middle" fill="#1c1c1c" stroke="#1c1c1c" stroke-width="0.22">12am</text>
<text x="269.91" y="542.1" font-size="8.4" text-anchor="middle" fill="#a5a5a5" stroke="#a5a5a5" stroke-width="0.22">12pm</text>
<text x="305.04" y="542.1" font-size="8.2" font-weight="bold" text-anchor="middle" fill="#1c1c1c" stroke="#1c1c1c" stroke-width="0.22">12am</text>
<text x="339.17" y="542.1" font-size="8.4" text-anchor="middle" fill="#a5a5a5" stroke="#a5a5a5" stroke-width="0.22">12pm</text>
<text x="374.3" y="542.1" font-size="8.2" font-weight="bold" text-anchor="middle" fill="#1c1c1c" stroke="#1c1c1c" stroke-width="0.22">12am</text>
<text x="408.43" y="542.1" font-size="8.4" text-anchor="middle" fill="#a5a5a5" stroke="#a5a5a5" stroke-width="0.22">12pm</text>
<text x="443.56" y="542.1" font-size="8.2" font-weight="bold" text-anchor="middle" fill="#1c1c1c" stroke="#1c1c1c" stroke-width="0.22">12am</text>
<text x="477.69" y="542.1" font-size="8.4" text-anchor="middle" fill="#a5a5a5" stroke="#a5a5a5" stroke-width="0.22">12pm</text>
<text x="514.6" y="542.1" font-size="8.2" font-weight="bold" text-anchor="end" fill="#1c1c1c" stroke="#1c1c1c" stroke-width="0.22">12am</text>
</svg>
</body></html>
